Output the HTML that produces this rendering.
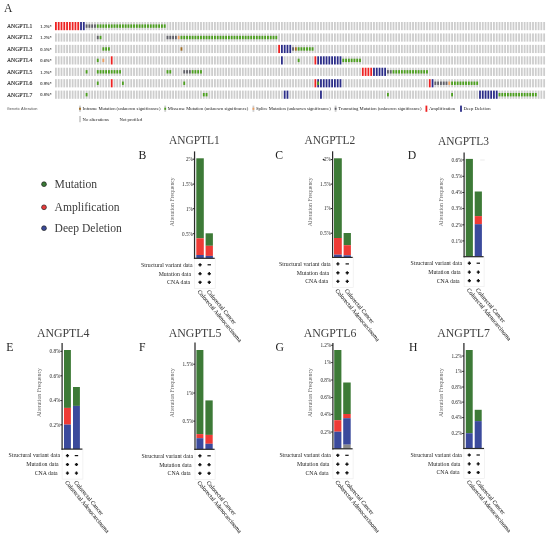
<!DOCTYPE html>
<html><head><meta charset="utf-8"><title>ANGPTL alterations</title>
<style>
html,body{margin:0;padding:0;background:#fff;width:550px;height:537px;overflow:hidden;}
svg{display:block;will-change:transform;}
text{font-family:"Liberation Serif", serif;}
</style></head><body>
<svg width="550" height="537" viewBox="0 0 550 537">
<rect x="0" y="0" width="550" height="537" fill="#fff"/>
<text x="7.00" y="28.00" font-size="5.7" text-anchor="start" fill="#2a2a2a" stroke="#2a2a2a" stroke-width="0.12">ANGPTL1</text>
<text x="40.30" y="27.80" font-size="4.45" text-anchor="start" fill="#333" stroke="#333" stroke-width="0.08">1.2%*</text>
<rect x="55.00" y="22.00" width="1.80" height="8.20" fill="#ee2222" />
<rect x="57.79" y="22.00" width="1.80" height="8.20" fill="#ee2222" />
<rect x="60.58" y="22.00" width="1.80" height="8.20" fill="#ee2222" />
<rect x="63.37" y="22.00" width="1.80" height="8.20" fill="#ee2222" />
<rect x="66.16" y="22.00" width="1.80" height="8.20" fill="#ee2222" />
<rect x="68.95" y="22.00" width="1.80" height="8.20" fill="#ee2222" />
<rect x="71.74" y="22.00" width="1.80" height="8.20" fill="#ee2222" />
<rect x="74.53" y="22.00" width="1.80" height="8.20" fill="#ee2222" />
<rect x="77.32" y="22.00" width="1.80" height="8.20" fill="#ee2222" />
<rect x="80.11" y="22.00" width="1.80" height="8.20" fill="#2b2d88" />
<rect x="82.90" y="22.00" width="1.80" height="8.20" fill="#2b2d88" />
<rect x="85.69" y="22.00" width="1.80" height="8.20" fill="#cdcdcd" />
<rect x="85.69" y="24.40" width="1.80" height="3.40" fill="#606068" />
<rect x="88.48" y="22.00" width="1.80" height="8.20" fill="#cdcdcd" />
<rect x="88.48" y="24.40" width="1.80" height="3.40" fill="#606068" />
<rect x="91.27" y="22.00" width="1.80" height="8.20" fill="#cdcdcd" />
<rect x="91.27" y="24.40" width="1.80" height="3.40" fill="#606068" />
<rect x="94.06" y="22.00" width="1.80" height="8.20" fill="#cdcdcd" />
<rect x="94.06" y="24.40" width="1.80" height="3.40" fill="#606068" />
<rect x="96.85" y="22.00" width="1.80" height="8.20" fill="#cdcdcd" />
<rect x="96.85" y="24.40" width="1.80" height="3.40" fill="#4ca01e" />
<rect x="99.64" y="22.00" width="1.80" height="8.20" fill="#cdcdcd" />
<rect x="99.64" y="24.40" width="1.80" height="3.40" fill="#4ca01e" />
<rect x="102.43" y="22.00" width="1.80" height="8.20" fill="#cdcdcd" />
<rect x="102.43" y="24.40" width="1.80" height="3.40" fill="#4ca01e" />
<rect x="105.22" y="22.00" width="1.80" height="8.20" fill="#cdcdcd" />
<rect x="105.22" y="24.40" width="1.80" height="3.40" fill="#4ca01e" />
<rect x="108.01" y="22.00" width="1.80" height="8.20" fill="#cdcdcd" />
<rect x="108.01" y="24.40" width="1.80" height="3.40" fill="#4ca01e" />
<rect x="110.80" y="22.00" width="1.80" height="8.20" fill="#cdcdcd" />
<rect x="110.80" y="24.40" width="1.80" height="3.40" fill="#4ca01e" />
<rect x="113.59" y="22.00" width="1.80" height="8.20" fill="#cdcdcd" />
<rect x="113.59" y="24.40" width="1.80" height="3.40" fill="#4ca01e" />
<rect x="116.38" y="22.00" width="1.80" height="8.20" fill="#cdcdcd" />
<rect x="116.38" y="24.40" width="1.80" height="3.40" fill="#4ca01e" />
<rect x="119.17" y="22.00" width="1.80" height="8.20" fill="#cdcdcd" />
<rect x="119.17" y="24.40" width="1.80" height="3.40" fill="#4ca01e" />
<rect x="121.96" y="22.00" width="1.80" height="8.20" fill="#cdcdcd" />
<rect x="121.96" y="24.40" width="1.80" height="3.40" fill="#4ca01e" />
<rect x="124.75" y="22.00" width="1.80" height="8.20" fill="#cdcdcd" />
<rect x="124.75" y="24.40" width="1.80" height="3.40" fill="#4ca01e" />
<rect x="127.54" y="22.00" width="1.80" height="8.20" fill="#cdcdcd" />
<rect x="127.54" y="24.40" width="1.80" height="3.40" fill="#4ca01e" />
<rect x="130.33" y="22.00" width="1.80" height="8.20" fill="#cdcdcd" />
<rect x="130.33" y="24.40" width="1.80" height="3.40" fill="#4ca01e" />
<rect x="133.12" y="22.00" width="1.80" height="8.20" fill="#cdcdcd" />
<rect x="133.12" y="24.40" width="1.80" height="3.40" fill="#4ca01e" />
<rect x="135.91" y="22.00" width="1.80" height="8.20" fill="#cdcdcd" />
<rect x="135.91" y="24.40" width="1.80" height="3.40" fill="#4ca01e" />
<rect x="138.70" y="22.00" width="1.80" height="8.20" fill="#cdcdcd" />
<rect x="138.70" y="24.40" width="1.80" height="3.40" fill="#4ca01e" />
<rect x="141.49" y="22.00" width="1.80" height="8.20" fill="#cdcdcd" />
<rect x="141.49" y="24.40" width="1.80" height="3.40" fill="#4ca01e" />
<rect x="144.28" y="22.00" width="1.80" height="8.20" fill="#cdcdcd" />
<rect x="144.28" y="24.40" width="1.80" height="3.40" fill="#4ca01e" />
<rect x="147.07" y="22.00" width="1.80" height="8.20" fill="#cdcdcd" />
<rect x="147.07" y="24.40" width="1.80" height="3.40" fill="#4ca01e" />
<rect x="149.86" y="22.00" width="1.80" height="8.20" fill="#cdcdcd" />
<rect x="149.86" y="24.40" width="1.80" height="3.40" fill="#4ca01e" />
<rect x="152.65" y="22.00" width="1.80" height="8.20" fill="#cdcdcd" />
<rect x="152.65" y="24.40" width="1.80" height="3.40" fill="#4ca01e" />
<rect x="155.44" y="22.00" width="1.80" height="8.20" fill="#cdcdcd" />
<rect x="155.44" y="24.40" width="1.80" height="3.40" fill="#4ca01e" />
<rect x="158.23" y="22.00" width="1.80" height="8.20" fill="#cdcdcd" />
<rect x="158.23" y="24.40" width="1.80" height="3.40" fill="#4ca01e" />
<rect x="161.02" y="22.00" width="1.80" height="8.20" fill="#cdcdcd" />
<rect x="161.02" y="24.40" width="1.80" height="3.40" fill="#4ca01e" />
<rect x="163.81" y="22.00" width="1.80" height="8.20" fill="#cdcdcd" />
<rect x="163.81" y="24.40" width="1.80" height="3.40" fill="#4ca01e" />
<rect x="166.60" y="22.00" width="1.80" height="8.20" fill="#cdcdcd" />
<rect x="169.39" y="22.00" width="1.80" height="8.20" fill="#cdcdcd" />
<rect x="172.18" y="22.00" width="1.80" height="8.20" fill="#cdcdcd" />
<rect x="174.97" y="22.00" width="1.80" height="8.20" fill="#cdcdcd" />
<rect x="177.76" y="22.00" width="1.80" height="8.20" fill="#cdcdcd" />
<rect x="180.55" y="22.00" width="1.80" height="8.20" fill="#cdcdcd" />
<rect x="183.34" y="22.00" width="1.80" height="8.20" fill="#cdcdcd" />
<rect x="186.13" y="22.00" width="1.80" height="8.20" fill="#cdcdcd" />
<rect x="188.92" y="22.00" width="1.80" height="8.20" fill="#cdcdcd" />
<rect x="191.71" y="22.00" width="1.80" height="8.20" fill="#cdcdcd" />
<rect x="194.50" y="22.00" width="1.80" height="8.20" fill="#cdcdcd" />
<rect x="197.29" y="22.00" width="1.80" height="8.20" fill="#cdcdcd" />
<rect x="200.08" y="22.00" width="1.80" height="8.20" fill="#cdcdcd" />
<rect x="202.87" y="22.00" width="1.80" height="8.20" fill="#cdcdcd" />
<rect x="205.66" y="22.00" width="1.80" height="8.20" fill="#cdcdcd" />
<rect x="208.45" y="22.00" width="1.80" height="8.20" fill="#cdcdcd" />
<rect x="211.24" y="22.00" width="1.80" height="8.20" fill="#cdcdcd" />
<rect x="214.03" y="22.00" width="1.80" height="8.20" fill="#cdcdcd" />
<rect x="216.82" y="22.00" width="1.80" height="8.20" fill="#cdcdcd" />
<rect x="219.61" y="22.00" width="1.80" height="8.20" fill="#cdcdcd" />
<rect x="222.40" y="22.00" width="1.80" height="8.20" fill="#cdcdcd" />
<rect x="225.19" y="22.00" width="1.80" height="8.20" fill="#cdcdcd" />
<rect x="227.98" y="22.00" width="1.80" height="8.20" fill="#cdcdcd" />
<rect x="230.77" y="22.00" width="1.80" height="8.20" fill="#cdcdcd" />
<rect x="233.56" y="22.00" width="1.80" height="8.20" fill="#cdcdcd" />
<rect x="236.35" y="22.00" width="1.80" height="8.20" fill="#cdcdcd" />
<rect x="239.14" y="22.00" width="1.80" height="8.20" fill="#cdcdcd" />
<rect x="241.93" y="22.00" width="1.80" height="8.20" fill="#cdcdcd" />
<rect x="244.72" y="22.00" width="1.80" height="8.20" fill="#cdcdcd" />
<rect x="247.51" y="22.00" width="1.80" height="8.20" fill="#cdcdcd" />
<rect x="250.30" y="22.00" width="1.80" height="8.20" fill="#cdcdcd" />
<rect x="253.09" y="22.00" width="1.80" height="8.20" fill="#cdcdcd" />
<rect x="255.88" y="22.00" width="1.80" height="8.20" fill="#cdcdcd" />
<rect x="258.67" y="22.00" width="1.80" height="8.20" fill="#cdcdcd" />
<rect x="261.46" y="22.00" width="1.80" height="8.20" fill="#cdcdcd" />
<rect x="264.25" y="22.00" width="1.80" height="8.20" fill="#cdcdcd" />
<rect x="267.04" y="22.00" width="1.80" height="8.20" fill="#cdcdcd" />
<rect x="269.83" y="22.00" width="1.80" height="8.20" fill="#cdcdcd" />
<rect x="272.62" y="22.00" width="1.80" height="8.20" fill="#cdcdcd" />
<rect x="275.41" y="22.00" width="1.80" height="8.20" fill="#cdcdcd" />
<rect x="278.20" y="22.00" width="1.80" height="8.20" fill="#cdcdcd" />
<rect x="280.99" y="22.00" width="1.80" height="8.20" fill="#cdcdcd" />
<rect x="283.78" y="22.00" width="1.80" height="8.20" fill="#cdcdcd" />
<rect x="286.57" y="22.00" width="1.80" height="8.20" fill="#cdcdcd" />
<rect x="289.36" y="22.00" width="1.80" height="8.20" fill="#cdcdcd" />
<rect x="292.15" y="22.00" width="1.80" height="8.20" fill="#cdcdcd" />
<rect x="294.94" y="22.00" width="1.80" height="8.20" fill="#cdcdcd" />
<rect x="297.73" y="22.00" width="1.80" height="8.20" fill="#cdcdcd" />
<rect x="300.52" y="22.00" width="1.80" height="8.20" fill="#cdcdcd" />
<rect x="303.31" y="22.00" width="1.80" height="8.20" fill="#cdcdcd" />
<rect x="306.10" y="22.00" width="1.80" height="8.20" fill="#cdcdcd" />
<rect x="308.89" y="22.00" width="1.80" height="8.20" fill="#cdcdcd" />
<rect x="311.68" y="22.00" width="1.80" height="8.20" fill="#cdcdcd" />
<rect x="314.47" y="22.00" width="1.80" height="8.20" fill="#cdcdcd" />
<rect x="317.26" y="22.00" width="1.80" height="8.20" fill="#cdcdcd" />
<rect x="320.05" y="22.00" width="1.80" height="8.20" fill="#cdcdcd" />
<rect x="322.84" y="22.00" width="1.80" height="8.20" fill="#cdcdcd" />
<rect x="325.63" y="22.00" width="1.80" height="8.20" fill="#cdcdcd" />
<rect x="328.42" y="22.00" width="1.80" height="8.20" fill="#cdcdcd" />
<rect x="331.21" y="22.00" width="1.80" height="8.20" fill="#cdcdcd" />
<rect x="334.00" y="22.00" width="1.80" height="8.20" fill="#cdcdcd" />
<rect x="336.79" y="22.00" width="1.80" height="8.20" fill="#cdcdcd" />
<rect x="339.58" y="22.00" width="1.80" height="8.20" fill="#cdcdcd" />
<rect x="342.37" y="22.00" width="1.80" height="8.20" fill="#cdcdcd" />
<rect x="345.16" y="22.00" width="1.80" height="8.20" fill="#cdcdcd" />
<rect x="347.95" y="22.00" width="1.80" height="8.20" fill="#cdcdcd" />
<rect x="350.74" y="22.00" width="1.80" height="8.20" fill="#cdcdcd" />
<rect x="353.53" y="22.00" width="1.80" height="8.20" fill="#cdcdcd" />
<rect x="356.32" y="22.00" width="1.80" height="8.20" fill="#cdcdcd" />
<rect x="359.11" y="22.00" width="1.80" height="8.20" fill="#cdcdcd" />
<rect x="361.90" y="22.00" width="1.80" height="8.20" fill="#cdcdcd" />
<rect x="364.69" y="22.00" width="1.80" height="8.20" fill="#cdcdcd" />
<rect x="367.48" y="22.00" width="1.80" height="8.20" fill="#cdcdcd" />
<rect x="370.27" y="22.00" width="1.80" height="8.20" fill="#cdcdcd" />
<rect x="373.06" y="22.00" width="1.80" height="8.20" fill="#cdcdcd" />
<rect x="375.85" y="22.00" width="1.80" height="8.20" fill="#cdcdcd" />
<rect x="378.64" y="22.00" width="1.80" height="8.20" fill="#cdcdcd" />
<rect x="381.43" y="22.00" width="1.80" height="8.20" fill="#cdcdcd" />
<rect x="384.22" y="22.00" width="1.80" height="8.20" fill="#cdcdcd" />
<rect x="387.01" y="22.00" width="1.80" height="8.20" fill="#cdcdcd" />
<rect x="389.80" y="22.00" width="1.80" height="8.20" fill="#cdcdcd" />
<rect x="392.59" y="22.00" width="1.80" height="8.20" fill="#cdcdcd" />
<rect x="395.38" y="22.00" width="1.80" height="8.20" fill="#cdcdcd" />
<rect x="398.17" y="22.00" width="1.80" height="8.20" fill="#cdcdcd" />
<rect x="400.96" y="22.00" width="1.80" height="8.20" fill="#cdcdcd" />
<rect x="403.75" y="22.00" width="1.80" height="8.20" fill="#cdcdcd" />
<rect x="406.54" y="22.00" width="1.80" height="8.20" fill="#cdcdcd" />
<rect x="409.33" y="22.00" width="1.80" height="8.20" fill="#cdcdcd" />
<rect x="412.12" y="22.00" width="1.80" height="8.20" fill="#cdcdcd" />
<rect x="414.91" y="22.00" width="1.80" height="8.20" fill="#cdcdcd" />
<rect x="417.70" y="22.00" width="1.80" height="8.20" fill="#cdcdcd" />
<rect x="420.49" y="22.00" width="1.80" height="8.20" fill="#cdcdcd" />
<rect x="423.28" y="22.00" width="1.80" height="8.20" fill="#cdcdcd" />
<rect x="426.07" y="22.00" width="1.80" height="8.20" fill="#cdcdcd" />
<rect x="428.86" y="22.00" width="1.80" height="8.20" fill="#cdcdcd" />
<rect x="431.65" y="22.00" width="1.80" height="8.20" fill="#cdcdcd" />
<rect x="434.44" y="22.00" width="1.80" height="8.20" fill="#cdcdcd" />
<rect x="437.23" y="22.00" width="1.80" height="8.20" fill="#cdcdcd" />
<rect x="440.02" y="22.00" width="1.80" height="8.20" fill="#cdcdcd" />
<rect x="442.81" y="22.00" width="1.80" height="8.20" fill="#cdcdcd" />
<rect x="445.60" y="22.00" width="1.80" height="8.20" fill="#cdcdcd" />
<rect x="448.39" y="22.00" width="1.80" height="8.20" fill="#cdcdcd" />
<rect x="451.18" y="22.00" width="1.80" height="8.20" fill="#cdcdcd" />
<rect x="453.97" y="22.00" width="1.80" height="8.20" fill="#cdcdcd" />
<rect x="456.76" y="22.00" width="1.80" height="8.20" fill="#cdcdcd" />
<rect x="459.55" y="22.00" width="1.80" height="8.20" fill="#cdcdcd" />
<rect x="462.34" y="22.00" width="1.80" height="8.20" fill="#cdcdcd" />
<rect x="465.13" y="22.00" width="1.80" height="8.20" fill="#cdcdcd" />
<rect x="467.92" y="22.00" width="1.80" height="8.20" fill="#cdcdcd" />
<rect x="470.71" y="22.00" width="1.80" height="8.20" fill="#cdcdcd" />
<rect x="473.50" y="22.00" width="1.80" height="8.20" fill="#cdcdcd" />
<rect x="476.29" y="22.00" width="1.80" height="8.20" fill="#cdcdcd" />
<rect x="479.08" y="22.00" width="1.80" height="8.20" fill="#cdcdcd" />
<rect x="481.87" y="22.00" width="1.80" height="8.20" fill="#cdcdcd" />
<rect x="484.66" y="22.00" width="1.80" height="8.20" fill="#cdcdcd" />
<rect x="487.45" y="22.00" width="1.80" height="8.20" fill="#cdcdcd" />
<rect x="490.24" y="22.00" width="1.80" height="8.20" fill="#cdcdcd" />
<rect x="493.03" y="22.00" width="1.80" height="8.20" fill="#cdcdcd" />
<rect x="495.82" y="22.00" width="1.80" height="8.20" fill="#cdcdcd" />
<rect x="498.61" y="22.00" width="1.80" height="8.20" fill="#cdcdcd" />
<rect x="501.40" y="22.00" width="1.80" height="8.20" fill="#cdcdcd" />
<rect x="504.19" y="22.00" width="1.80" height="8.20" fill="#cdcdcd" />
<rect x="506.98" y="22.00" width="1.80" height="8.20" fill="#cdcdcd" />
<rect x="509.77" y="22.00" width="1.80" height="8.20" fill="#cdcdcd" />
<rect x="512.56" y="22.00" width="1.80" height="8.20" fill="#cdcdcd" />
<rect x="515.35" y="22.00" width="1.80" height="8.20" fill="#cdcdcd" />
<rect x="518.14" y="22.00" width="1.80" height="8.20" fill="#cdcdcd" />
<rect x="520.93" y="22.00" width="1.80" height="8.20" fill="#cdcdcd" />
<rect x="523.72" y="22.00" width="1.80" height="8.20" fill="#cdcdcd" />
<rect x="526.51" y="22.00" width="1.80" height="8.20" fill="#cdcdcd" />
<rect x="529.30" y="22.00" width="1.80" height="8.20" fill="#cdcdcd" />
<rect x="532.09" y="22.00" width="1.80" height="8.20" fill="#cdcdcd" />
<rect x="534.88" y="22.00" width="1.80" height="8.20" fill="#cdcdcd" />
<rect x="537.67" y="22.00" width="1.80" height="8.20" fill="#cdcdcd" />
<rect x="540.46" y="22.00" width="1.80" height="8.20" fill="#cdcdcd" />
<rect x="543.25" y="22.00" width="1.80" height="8.20" fill="#cdcdcd" />
<text x="7.00" y="39.43" font-size="5.7" text-anchor="start" fill="#2a2a2a" stroke="#2a2a2a" stroke-width="0.12">ANGPTL2</text>
<text x="40.30" y="39.23" font-size="4.45" text-anchor="start" fill="#333" stroke="#333" stroke-width="0.08">1.2%*</text>
<rect x="55.00" y="33.43" width="1.80" height="8.20" fill="#cdcdcd" />
<rect x="57.79" y="33.43" width="1.80" height="8.20" fill="#cdcdcd" />
<rect x="60.58" y="33.43" width="1.80" height="8.20" fill="#cdcdcd" />
<rect x="63.37" y="33.43" width="1.80" height="8.20" fill="#cdcdcd" />
<rect x="66.16" y="33.43" width="1.80" height="8.20" fill="#cdcdcd" />
<rect x="68.95" y="33.43" width="1.80" height="8.20" fill="#cdcdcd" />
<rect x="71.74" y="33.43" width="1.80" height="8.20" fill="#cdcdcd" />
<rect x="74.53" y="33.43" width="1.80" height="8.20" fill="#cdcdcd" />
<rect x="77.32" y="33.43" width="1.80" height="8.20" fill="#cdcdcd" />
<rect x="80.11" y="33.43" width="1.80" height="8.20" fill="#cdcdcd" />
<rect x="82.90" y="33.43" width="1.80" height="8.20" fill="#cdcdcd" />
<rect x="85.69" y="33.43" width="1.80" height="8.20" fill="#cdcdcd" />
<rect x="88.48" y="33.43" width="1.80" height="8.20" fill="#cdcdcd" />
<rect x="91.27" y="33.43" width="1.80" height="8.20" fill="#cdcdcd" />
<rect x="94.06" y="33.43" width="1.80" height="8.20" fill="#cdcdcd" />
<rect x="96.85" y="33.43" width="1.80" height="8.20" fill="#cdcdcd" />
<rect x="96.85" y="35.83" width="1.80" height="3.40" fill="#606068" />
<rect x="99.64" y="33.43" width="1.80" height="8.20" fill="#cdcdcd" />
<rect x="99.64" y="35.83" width="1.80" height="3.40" fill="#4ca01e" />
<rect x="102.43" y="33.43" width="1.80" height="8.20" fill="#cdcdcd" />
<rect x="105.22" y="33.43" width="1.80" height="8.20" fill="#cdcdcd" />
<rect x="108.01" y="33.43" width="1.80" height="8.20" fill="#cdcdcd" />
<rect x="110.80" y="33.43" width="1.80" height="8.20" fill="#cdcdcd" />
<rect x="113.59" y="33.43" width="1.80" height="8.20" fill="#cdcdcd" />
<rect x="116.38" y="33.43" width="1.80" height="8.20" fill="#cdcdcd" />
<rect x="119.17" y="33.43" width="1.80" height="8.20" fill="#cdcdcd" />
<rect x="121.96" y="33.43" width="1.80" height="8.20" fill="#cdcdcd" />
<rect x="124.75" y="33.43" width="1.80" height="8.20" fill="#cdcdcd" />
<rect x="127.54" y="33.43" width="1.80" height="8.20" fill="#cdcdcd" />
<rect x="130.33" y="33.43" width="1.80" height="8.20" fill="#cdcdcd" />
<rect x="133.12" y="33.43" width="1.80" height="8.20" fill="#cdcdcd" />
<rect x="135.91" y="33.43" width="1.80" height="8.20" fill="#cdcdcd" />
<rect x="138.70" y="33.43" width="1.80" height="8.20" fill="#cdcdcd" />
<rect x="141.49" y="33.43" width="1.80" height="8.20" fill="#cdcdcd" />
<rect x="144.28" y="33.43" width="1.80" height="8.20" fill="#cdcdcd" />
<rect x="147.07" y="33.43" width="1.80" height="8.20" fill="#cdcdcd" />
<rect x="149.86" y="33.43" width="1.80" height="8.20" fill="#cdcdcd" />
<rect x="152.65" y="33.43" width="1.80" height="8.20" fill="#cdcdcd" />
<rect x="155.44" y="33.43" width="1.80" height="8.20" fill="#cdcdcd" />
<rect x="158.23" y="33.43" width="1.80" height="8.20" fill="#cdcdcd" />
<rect x="161.02" y="33.43" width="1.80" height="8.20" fill="#cdcdcd" />
<rect x="163.81" y="33.43" width="1.80" height="8.20" fill="#cdcdcd" />
<rect x="166.60" y="33.43" width="1.80" height="8.20" fill="#cdcdcd" />
<rect x="166.60" y="35.83" width="1.80" height="3.40" fill="#606068" />
<rect x="169.39" y="33.43" width="1.80" height="8.20" fill="#cdcdcd" />
<rect x="169.39" y="35.83" width="1.80" height="3.40" fill="#606068" />
<rect x="172.18" y="33.43" width="1.80" height="8.20" fill="#cdcdcd" />
<rect x="172.18" y="35.83" width="1.80" height="3.40" fill="#606068" />
<rect x="174.97" y="33.43" width="1.80" height="8.20" fill="#cdcdcd" />
<rect x="174.97" y="35.83" width="1.80" height="3.40" fill="#606068" />
<rect x="177.76" y="33.43" width="1.80" height="8.20" fill="#cdcdcd" />
<rect x="177.76" y="35.83" width="1.80" height="3.40" fill="#f0a060" />
<rect x="180.55" y="33.43" width="1.80" height="8.20" fill="#cdcdcd" />
<rect x="180.55" y="35.83" width="1.80" height="3.40" fill="#4ca01e" />
<rect x="183.34" y="33.43" width="1.80" height="8.20" fill="#cdcdcd" />
<rect x="183.34" y="35.83" width="1.80" height="3.40" fill="#4ca01e" />
<rect x="186.13" y="33.43" width="1.80" height="8.20" fill="#cdcdcd" />
<rect x="186.13" y="35.83" width="1.80" height="3.40" fill="#4ca01e" />
<rect x="188.92" y="33.43" width="1.80" height="8.20" fill="#cdcdcd" />
<rect x="188.92" y="35.83" width="1.80" height="3.40" fill="#4ca01e" />
<rect x="191.71" y="33.43" width="1.80" height="8.20" fill="#cdcdcd" />
<rect x="191.71" y="35.83" width="1.80" height="3.40" fill="#4ca01e" />
<rect x="194.50" y="33.43" width="1.80" height="8.20" fill="#cdcdcd" />
<rect x="194.50" y="35.83" width="1.80" height="3.40" fill="#4ca01e" />
<rect x="197.29" y="33.43" width="1.80" height="8.20" fill="#cdcdcd" />
<rect x="197.29" y="35.83" width="1.80" height="3.40" fill="#4ca01e" />
<rect x="200.08" y="33.43" width="1.80" height="8.20" fill="#cdcdcd" />
<rect x="200.08" y="35.83" width="1.80" height="3.40" fill="#4ca01e" />
<rect x="202.87" y="33.43" width="1.80" height="8.20" fill="#cdcdcd" />
<rect x="202.87" y="35.83" width="1.80" height="3.40" fill="#4ca01e" />
<rect x="205.66" y="33.43" width="1.80" height="8.20" fill="#cdcdcd" />
<rect x="205.66" y="35.83" width="1.80" height="3.40" fill="#4ca01e" />
<rect x="208.45" y="33.43" width="1.80" height="8.20" fill="#cdcdcd" />
<rect x="208.45" y="35.83" width="1.80" height="3.40" fill="#4ca01e" />
<rect x="211.24" y="33.43" width="1.80" height="8.20" fill="#cdcdcd" />
<rect x="211.24" y="35.83" width="1.80" height="3.40" fill="#4ca01e" />
<rect x="214.03" y="33.43" width="1.80" height="8.20" fill="#cdcdcd" />
<rect x="214.03" y="35.83" width="1.80" height="3.40" fill="#4ca01e" />
<rect x="216.82" y="33.43" width="1.80" height="8.20" fill="#cdcdcd" />
<rect x="216.82" y="35.83" width="1.80" height="3.40" fill="#4ca01e" />
<rect x="219.61" y="33.43" width="1.80" height="8.20" fill="#cdcdcd" />
<rect x="219.61" y="35.83" width="1.80" height="3.40" fill="#4ca01e" />
<rect x="222.40" y="33.43" width="1.80" height="8.20" fill="#cdcdcd" />
<rect x="222.40" y="35.83" width="1.80" height="3.40" fill="#4ca01e" />
<rect x="225.19" y="33.43" width="1.80" height="8.20" fill="#cdcdcd" />
<rect x="225.19" y="35.83" width="1.80" height="3.40" fill="#4ca01e" />
<rect x="227.98" y="33.43" width="1.80" height="8.20" fill="#cdcdcd" />
<rect x="227.98" y="35.83" width="1.80" height="3.40" fill="#4ca01e" />
<rect x="230.77" y="33.43" width="1.80" height="8.20" fill="#cdcdcd" />
<rect x="230.77" y="35.83" width="1.80" height="3.40" fill="#4ca01e" />
<rect x="233.56" y="33.43" width="1.80" height="8.20" fill="#cdcdcd" />
<rect x="233.56" y="35.83" width="1.80" height="3.40" fill="#4ca01e" />
<rect x="236.35" y="33.43" width="1.80" height="8.20" fill="#cdcdcd" />
<rect x="236.35" y="35.83" width="1.80" height="3.40" fill="#4ca01e" />
<rect x="239.14" y="33.43" width="1.80" height="8.20" fill="#cdcdcd" />
<rect x="239.14" y="35.83" width="1.80" height="3.40" fill="#4ca01e" />
<rect x="241.93" y="33.43" width="1.80" height="8.20" fill="#cdcdcd" />
<rect x="241.93" y="35.83" width="1.80" height="3.40" fill="#4ca01e" />
<rect x="244.72" y="33.43" width="1.80" height="8.20" fill="#cdcdcd" />
<rect x="244.72" y="35.83" width="1.80" height="3.40" fill="#4ca01e" />
<rect x="247.51" y="33.43" width="1.80" height="8.20" fill="#cdcdcd" />
<rect x="247.51" y="35.83" width="1.80" height="3.40" fill="#4ca01e" />
<rect x="250.30" y="33.43" width="1.80" height="8.20" fill="#cdcdcd" />
<rect x="250.30" y="35.83" width="1.80" height="3.40" fill="#4ca01e" />
<rect x="253.09" y="33.43" width="1.80" height="8.20" fill="#cdcdcd" />
<rect x="253.09" y="35.83" width="1.80" height="3.40" fill="#4ca01e" />
<rect x="255.88" y="33.43" width="1.80" height="8.20" fill="#cdcdcd" />
<rect x="255.88" y="35.83" width="1.80" height="3.40" fill="#4ca01e" />
<rect x="258.67" y="33.43" width="1.80" height="8.20" fill="#cdcdcd" />
<rect x="258.67" y="35.83" width="1.80" height="3.40" fill="#4ca01e" />
<rect x="261.46" y="33.43" width="1.80" height="8.20" fill="#cdcdcd" />
<rect x="261.46" y="35.83" width="1.80" height="3.40" fill="#4ca01e" />
<rect x="264.25" y="33.43" width="1.80" height="8.20" fill="#cdcdcd" />
<rect x="264.25" y="35.83" width="1.80" height="3.40" fill="#4ca01e" />
<rect x="267.04" y="33.43" width="1.80" height="8.20" fill="#cdcdcd" />
<rect x="267.04" y="35.83" width="1.80" height="3.40" fill="#4ca01e" />
<rect x="269.83" y="33.43" width="1.80" height="8.20" fill="#cdcdcd" />
<rect x="269.83" y="35.83" width="1.80" height="3.40" fill="#4ca01e" />
<rect x="272.62" y="33.43" width="1.80" height="8.20" fill="#cdcdcd" />
<rect x="272.62" y="35.83" width="1.80" height="3.40" fill="#4ca01e" />
<rect x="275.41" y="33.43" width="1.80" height="8.20" fill="#cdcdcd" />
<rect x="275.41" y="35.83" width="1.80" height="3.40" fill="#4ca01e" />
<rect x="278.20" y="33.43" width="1.80" height="8.20" fill="#cdcdcd" />
<rect x="280.99" y="33.43" width="1.80" height="8.20" fill="#cdcdcd" />
<rect x="283.78" y="33.43" width="1.80" height="8.20" fill="#cdcdcd" />
<rect x="286.57" y="33.43" width="1.80" height="8.20" fill="#cdcdcd" />
<rect x="289.36" y="33.43" width="1.80" height="8.20" fill="#cdcdcd" />
<rect x="292.15" y="33.43" width="1.80" height="8.20" fill="#cdcdcd" />
<rect x="294.94" y="33.43" width="1.80" height="8.20" fill="#cdcdcd" />
<rect x="297.73" y="33.43" width="1.80" height="8.20" fill="#cdcdcd" />
<rect x="300.52" y="33.43" width="1.80" height="8.20" fill="#cdcdcd" />
<rect x="303.31" y="33.43" width="1.80" height="8.20" fill="#cdcdcd" />
<rect x="306.10" y="33.43" width="1.80" height="8.20" fill="#cdcdcd" />
<rect x="308.89" y="33.43" width="1.80" height="8.20" fill="#cdcdcd" />
<rect x="311.68" y="33.43" width="1.80" height="8.20" fill="#cdcdcd" />
<rect x="314.47" y="33.43" width="1.80" height="8.20" fill="#cdcdcd" />
<rect x="317.26" y="33.43" width="1.80" height="8.20" fill="#cdcdcd" />
<rect x="320.05" y="33.43" width="1.80" height="8.20" fill="#cdcdcd" />
<rect x="322.84" y="33.43" width="1.80" height="8.20" fill="#cdcdcd" />
<rect x="325.63" y="33.43" width="1.80" height="8.20" fill="#cdcdcd" />
<rect x="328.42" y="33.43" width="1.80" height="8.20" fill="#cdcdcd" />
<rect x="331.21" y="33.43" width="1.80" height="8.20" fill="#cdcdcd" />
<rect x="334.00" y="33.43" width="1.80" height="8.20" fill="#cdcdcd" />
<rect x="336.79" y="33.43" width="1.80" height="8.20" fill="#cdcdcd" />
<rect x="339.58" y="33.43" width="1.80" height="8.20" fill="#cdcdcd" />
<rect x="342.37" y="33.43" width="1.80" height="8.20" fill="#cdcdcd" />
<rect x="345.16" y="33.43" width="1.80" height="8.20" fill="#cdcdcd" />
<rect x="347.95" y="33.43" width="1.80" height="8.20" fill="#cdcdcd" />
<rect x="350.74" y="33.43" width="1.80" height="8.20" fill="#cdcdcd" />
<rect x="353.53" y="33.43" width="1.80" height="8.20" fill="#cdcdcd" />
<rect x="356.32" y="33.43" width="1.80" height="8.20" fill="#cdcdcd" />
<rect x="359.11" y="33.43" width="1.80" height="8.20" fill="#cdcdcd" />
<rect x="361.90" y="33.43" width="1.80" height="8.20" fill="#cdcdcd" />
<rect x="364.69" y="33.43" width="1.80" height="8.20" fill="#cdcdcd" />
<rect x="367.48" y="33.43" width="1.80" height="8.20" fill="#cdcdcd" />
<rect x="370.27" y="33.43" width="1.80" height="8.20" fill="#cdcdcd" />
<rect x="373.06" y="33.43" width="1.80" height="8.20" fill="#cdcdcd" />
<rect x="375.85" y="33.43" width="1.80" height="8.20" fill="#cdcdcd" />
<rect x="378.64" y="33.43" width="1.80" height="8.20" fill="#cdcdcd" />
<rect x="381.43" y="33.43" width="1.80" height="8.20" fill="#cdcdcd" />
<rect x="384.22" y="33.43" width="1.80" height="8.20" fill="#cdcdcd" />
<rect x="387.01" y="33.43" width="1.80" height="8.20" fill="#cdcdcd" />
<rect x="389.80" y="33.43" width="1.80" height="8.20" fill="#cdcdcd" />
<rect x="392.59" y="33.43" width="1.80" height="8.20" fill="#cdcdcd" />
<rect x="395.38" y="33.43" width="1.80" height="8.20" fill="#cdcdcd" />
<rect x="398.17" y="33.43" width="1.80" height="8.20" fill="#cdcdcd" />
<rect x="400.96" y="33.43" width="1.80" height="8.20" fill="#cdcdcd" />
<rect x="403.75" y="33.43" width="1.80" height="8.20" fill="#cdcdcd" />
<rect x="406.54" y="33.43" width="1.80" height="8.20" fill="#cdcdcd" />
<rect x="409.33" y="33.43" width="1.80" height="8.20" fill="#cdcdcd" />
<rect x="412.12" y="33.43" width="1.80" height="8.20" fill="#cdcdcd" />
<rect x="414.91" y="33.43" width="1.80" height="8.20" fill="#cdcdcd" />
<rect x="417.70" y="33.43" width="1.80" height="8.20" fill="#cdcdcd" />
<rect x="420.49" y="33.43" width="1.80" height="8.20" fill="#cdcdcd" />
<rect x="423.28" y="33.43" width="1.80" height="8.20" fill="#cdcdcd" />
<rect x="426.07" y="33.43" width="1.80" height="8.20" fill="#cdcdcd" />
<rect x="428.86" y="33.43" width="1.80" height="8.20" fill="#cdcdcd" />
<rect x="431.65" y="33.43" width="1.80" height="8.20" fill="#cdcdcd" />
<rect x="434.44" y="33.43" width="1.80" height="8.20" fill="#cdcdcd" />
<rect x="437.23" y="33.43" width="1.80" height="8.20" fill="#cdcdcd" />
<rect x="440.02" y="33.43" width="1.80" height="8.20" fill="#cdcdcd" />
<rect x="442.81" y="33.43" width="1.80" height="8.20" fill="#cdcdcd" />
<rect x="445.60" y="33.43" width="1.80" height="8.20" fill="#cdcdcd" />
<rect x="448.39" y="33.43" width="1.80" height="8.20" fill="#cdcdcd" />
<rect x="451.18" y="33.43" width="1.80" height="8.20" fill="#cdcdcd" />
<rect x="453.97" y="33.43" width="1.80" height="8.20" fill="#cdcdcd" />
<rect x="456.76" y="33.43" width="1.80" height="8.20" fill="#cdcdcd" />
<rect x="459.55" y="33.43" width="1.80" height="8.20" fill="#cdcdcd" />
<rect x="462.34" y="33.43" width="1.80" height="8.20" fill="#cdcdcd" />
<rect x="465.13" y="33.43" width="1.80" height="8.20" fill="#cdcdcd" />
<rect x="467.92" y="33.43" width="1.80" height="8.20" fill="#cdcdcd" />
<rect x="470.71" y="33.43" width="1.80" height="8.20" fill="#cdcdcd" />
<rect x="473.50" y="33.43" width="1.80" height="8.20" fill="#cdcdcd" />
<rect x="476.29" y="33.43" width="1.80" height="8.20" fill="#cdcdcd" />
<rect x="479.08" y="33.43" width="1.80" height="8.20" fill="#cdcdcd" />
<rect x="481.87" y="33.43" width="1.80" height="8.20" fill="#cdcdcd" />
<rect x="484.66" y="33.43" width="1.80" height="8.20" fill="#cdcdcd" />
<rect x="487.45" y="33.43" width="1.80" height="8.20" fill="#cdcdcd" />
<rect x="490.24" y="33.43" width="1.80" height="8.20" fill="#cdcdcd" />
<rect x="493.03" y="33.43" width="1.80" height="8.20" fill="#cdcdcd" />
<rect x="495.82" y="33.43" width="1.80" height="8.20" fill="#cdcdcd" />
<rect x="498.61" y="33.43" width="1.80" height="8.20" fill="#cdcdcd" />
<rect x="501.40" y="33.43" width="1.80" height="8.20" fill="#cdcdcd" />
<rect x="504.19" y="33.43" width="1.80" height="8.20" fill="#cdcdcd" />
<rect x="506.98" y="33.43" width="1.80" height="8.20" fill="#cdcdcd" />
<rect x="509.77" y="33.43" width="1.80" height="8.20" fill="#cdcdcd" />
<rect x="512.56" y="33.43" width="1.80" height="8.20" fill="#cdcdcd" />
<rect x="515.35" y="33.43" width="1.80" height="8.20" fill="#cdcdcd" />
<rect x="518.14" y="33.43" width="1.80" height="8.20" fill="#cdcdcd" />
<rect x="520.93" y="33.43" width="1.80" height="8.20" fill="#cdcdcd" />
<rect x="523.72" y="33.43" width="1.80" height="8.20" fill="#cdcdcd" />
<rect x="526.51" y="33.43" width="1.80" height="8.20" fill="#cdcdcd" />
<rect x="529.30" y="33.43" width="1.80" height="8.20" fill="#cdcdcd" />
<rect x="532.09" y="33.43" width="1.80" height="8.20" fill="#cdcdcd" />
<rect x="534.88" y="33.43" width="1.80" height="8.20" fill="#cdcdcd" />
<rect x="537.67" y="33.43" width="1.80" height="8.20" fill="#cdcdcd" />
<rect x="540.46" y="33.43" width="1.80" height="8.20" fill="#cdcdcd" />
<rect x="543.25" y="33.43" width="1.80" height="8.20" fill="#cdcdcd" />
<text x="7.00" y="50.86" font-size="5.7" text-anchor="start" fill="#2a2a2a" stroke="#2a2a2a" stroke-width="0.12">ANGPTL3</text>
<text x="40.30" y="50.66" font-size="4.45" text-anchor="start" fill="#333" stroke="#333" stroke-width="0.08">0.5%*</text>
<rect x="55.00" y="44.86" width="1.80" height="8.20" fill="#cdcdcd" />
<rect x="57.79" y="44.86" width="1.80" height="8.20" fill="#cdcdcd" />
<rect x="60.58" y="44.86" width="1.80" height="8.20" fill="#cdcdcd" />
<rect x="63.37" y="44.86" width="1.80" height="8.20" fill="#cdcdcd" />
<rect x="66.16" y="44.86" width="1.80" height="8.20" fill="#cdcdcd" />
<rect x="68.95" y="44.86" width="1.80" height="8.20" fill="#cdcdcd" />
<rect x="71.74" y="44.86" width="1.80" height="8.20" fill="#cdcdcd" />
<rect x="74.53" y="44.86" width="1.80" height="8.20" fill="#cdcdcd" />
<rect x="77.32" y="44.86" width="1.80" height="8.20" fill="#cdcdcd" />
<rect x="80.11" y="44.86" width="1.80" height="8.20" fill="#cdcdcd" />
<rect x="82.90" y="44.86" width="1.80" height="8.20" fill="#cdcdcd" />
<rect x="85.69" y="44.86" width="1.80" height="8.20" fill="#cdcdcd" />
<rect x="88.48" y="44.86" width="1.80" height="8.20" fill="#cdcdcd" />
<rect x="91.27" y="44.86" width="1.80" height="8.20" fill="#cdcdcd" />
<rect x="94.06" y="44.86" width="1.80" height="8.20" fill="#cdcdcd" />
<rect x="96.85" y="44.86" width="1.80" height="8.20" fill="#cdcdcd" />
<rect x="99.64" y="44.86" width="1.80" height="8.20" fill="#cdcdcd" />
<rect x="102.43" y="44.86" width="1.80" height="8.20" fill="#cdcdcd" />
<rect x="102.43" y="47.26" width="1.80" height="3.40" fill="#4ca01e" />
<rect x="105.22" y="44.86" width="1.80" height="8.20" fill="#cdcdcd" />
<rect x="105.22" y="47.26" width="1.80" height="3.40" fill="#4ca01e" />
<rect x="108.01" y="44.86" width="1.80" height="8.20" fill="#cdcdcd" />
<rect x="108.01" y="47.26" width="1.80" height="3.40" fill="#4ca01e" />
<rect x="110.80" y="44.86" width="1.80" height="8.20" fill="#cdcdcd" />
<rect x="113.59" y="44.86" width="1.80" height="8.20" fill="#cdcdcd" />
<rect x="116.38" y="44.86" width="1.80" height="8.20" fill="#cdcdcd" />
<rect x="119.17" y="44.86" width="1.80" height="8.20" fill="#cdcdcd" />
<rect x="121.96" y="44.86" width="1.80" height="8.20" fill="#cdcdcd" />
<rect x="124.75" y="44.86" width="1.80" height="8.20" fill="#cdcdcd" />
<rect x="127.54" y="44.86" width="1.80" height="8.20" fill="#cdcdcd" />
<rect x="130.33" y="44.86" width="1.80" height="8.20" fill="#cdcdcd" />
<rect x="133.12" y="44.86" width="1.80" height="8.20" fill="#cdcdcd" />
<rect x="135.91" y="44.86" width="1.80" height="8.20" fill="#cdcdcd" />
<rect x="138.70" y="44.86" width="1.80" height="8.20" fill="#cdcdcd" />
<rect x="141.49" y="44.86" width="1.80" height="8.20" fill="#cdcdcd" />
<rect x="144.28" y="44.86" width="1.80" height="8.20" fill="#cdcdcd" />
<rect x="147.07" y="44.86" width="1.80" height="8.20" fill="#cdcdcd" />
<rect x="149.86" y="44.86" width="1.80" height="8.20" fill="#cdcdcd" />
<rect x="152.65" y="44.86" width="1.80" height="8.20" fill="#cdcdcd" />
<rect x="155.44" y="44.86" width="1.80" height="8.20" fill="#cdcdcd" />
<rect x="158.23" y="44.86" width="1.80" height="8.20" fill="#cdcdcd" />
<rect x="161.02" y="44.86" width="1.80" height="8.20" fill="#cdcdcd" />
<rect x="163.81" y="44.86" width="1.80" height="8.20" fill="#cdcdcd" />
<rect x="166.60" y="44.86" width="1.80" height="8.20" fill="#cdcdcd" />
<rect x="169.39" y="44.86" width="1.80" height="8.20" fill="#cdcdcd" />
<rect x="172.18" y="44.86" width="1.80" height="8.20" fill="#cdcdcd" />
<rect x="174.97" y="44.86" width="1.80" height="8.20" fill="#cdcdcd" />
<rect x="177.76" y="44.86" width="1.80" height="8.20" fill="#cdcdcd" />
<rect x="180.55" y="44.86" width="1.80" height="8.20" fill="#cdcdcd" />
<rect x="180.55" y="47.26" width="1.80" height="3.40" fill="#a06a20" />
<rect x="183.34" y="44.86" width="1.80" height="8.20" fill="#cdcdcd" />
<rect x="186.13" y="44.86" width="1.80" height="8.20" fill="#cdcdcd" />
<rect x="188.92" y="44.86" width="1.80" height="8.20" fill="#cdcdcd" />
<rect x="191.71" y="44.86" width="1.80" height="8.20" fill="#cdcdcd" />
<rect x="194.50" y="44.86" width="1.80" height="8.20" fill="#cdcdcd" />
<rect x="197.29" y="44.86" width="1.80" height="8.20" fill="#cdcdcd" />
<rect x="200.08" y="44.86" width="1.80" height="8.20" fill="#cdcdcd" />
<rect x="202.87" y="44.86" width="1.80" height="8.20" fill="#cdcdcd" />
<rect x="205.66" y="44.86" width="1.80" height="8.20" fill="#cdcdcd" />
<rect x="208.45" y="44.86" width="1.80" height="8.20" fill="#cdcdcd" />
<rect x="211.24" y="44.86" width="1.80" height="8.20" fill="#cdcdcd" />
<rect x="214.03" y="44.86" width="1.80" height="8.20" fill="#cdcdcd" />
<rect x="216.82" y="44.86" width="1.80" height="8.20" fill="#cdcdcd" />
<rect x="219.61" y="44.86" width="1.80" height="8.20" fill="#cdcdcd" />
<rect x="222.40" y="44.86" width="1.80" height="8.20" fill="#cdcdcd" />
<rect x="225.19" y="44.86" width="1.80" height="8.20" fill="#cdcdcd" />
<rect x="227.98" y="44.86" width="1.80" height="8.20" fill="#cdcdcd" />
<rect x="230.77" y="44.86" width="1.80" height="8.20" fill="#cdcdcd" />
<rect x="233.56" y="44.86" width="1.80" height="8.20" fill="#cdcdcd" />
<rect x="236.35" y="44.86" width="1.80" height="8.20" fill="#cdcdcd" />
<rect x="239.14" y="44.86" width="1.80" height="8.20" fill="#cdcdcd" />
<rect x="241.93" y="44.86" width="1.80" height="8.20" fill="#cdcdcd" />
<rect x="244.72" y="44.86" width="1.80" height="8.20" fill="#cdcdcd" />
<rect x="247.51" y="44.86" width="1.80" height="8.20" fill="#cdcdcd" />
<rect x="250.30" y="44.86" width="1.80" height="8.20" fill="#cdcdcd" />
<rect x="253.09" y="44.86" width="1.80" height="8.20" fill="#cdcdcd" />
<rect x="255.88" y="44.86" width="1.80" height="8.20" fill="#cdcdcd" />
<rect x="258.67" y="44.86" width="1.80" height="8.20" fill="#cdcdcd" />
<rect x="261.46" y="44.86" width="1.80" height="8.20" fill="#cdcdcd" />
<rect x="264.25" y="44.86" width="1.80" height="8.20" fill="#cdcdcd" />
<rect x="267.04" y="44.86" width="1.80" height="8.20" fill="#cdcdcd" />
<rect x="269.83" y="44.86" width="1.80" height="8.20" fill="#cdcdcd" />
<rect x="272.62" y="44.86" width="1.80" height="8.20" fill="#cdcdcd" />
<rect x="275.41" y="44.86" width="1.80" height="8.20" fill="#cdcdcd" />
<rect x="278.20" y="44.86" width="1.80" height="8.20" fill="#ee2222" />
<rect x="280.99" y="44.86" width="1.80" height="8.20" fill="#2b2d88" />
<rect x="283.78" y="44.86" width="1.80" height="8.20" fill="#2b2d88" />
<rect x="286.57" y="44.86" width="1.80" height="8.20" fill="#2b2d88" />
<rect x="289.36" y="44.86" width="1.80" height="8.20" fill="#2b2d88" />
<rect x="292.15" y="44.86" width="1.80" height="8.20" fill="#cdcdcd" />
<rect x="292.15" y="47.26" width="1.80" height="3.40" fill="#606068" />
<rect x="294.94" y="44.86" width="1.80" height="8.20" fill="#cdcdcd" />
<rect x="294.94" y="47.26" width="1.80" height="3.40" fill="#a06a20" />
<rect x="297.73" y="44.86" width="1.80" height="8.20" fill="#cdcdcd" />
<rect x="297.73" y="47.26" width="1.80" height="3.40" fill="#4ca01e" />
<rect x="300.52" y="44.86" width="1.80" height="8.20" fill="#cdcdcd" />
<rect x="300.52" y="47.26" width="1.80" height="3.40" fill="#4ca01e" />
<rect x="303.31" y="44.86" width="1.80" height="8.20" fill="#cdcdcd" />
<rect x="303.31" y="47.26" width="1.80" height="3.40" fill="#4ca01e" />
<rect x="306.10" y="44.86" width="1.80" height="8.20" fill="#cdcdcd" />
<rect x="306.10" y="47.26" width="1.80" height="3.40" fill="#4ca01e" />
<rect x="308.89" y="44.86" width="1.80" height="8.20" fill="#cdcdcd" />
<rect x="308.89" y="47.26" width="1.80" height="3.40" fill="#4ca01e" />
<rect x="311.68" y="44.86" width="1.80" height="8.20" fill="#cdcdcd" />
<rect x="311.68" y="47.26" width="1.80" height="3.40" fill="#4ca01e" />
<rect x="314.47" y="44.86" width="1.80" height="8.20" fill="#cdcdcd" />
<rect x="317.26" y="44.86" width="1.80" height="8.20" fill="#cdcdcd" />
<rect x="320.05" y="44.86" width="1.80" height="8.20" fill="#cdcdcd" />
<rect x="322.84" y="44.86" width="1.80" height="8.20" fill="#cdcdcd" />
<rect x="325.63" y="44.86" width="1.80" height="8.20" fill="#cdcdcd" />
<rect x="328.42" y="44.86" width="1.80" height="8.20" fill="#cdcdcd" />
<rect x="331.21" y="44.86" width="1.80" height="8.20" fill="#cdcdcd" />
<rect x="334.00" y="44.86" width="1.80" height="8.20" fill="#cdcdcd" />
<rect x="336.79" y="44.86" width="1.80" height="8.20" fill="#cdcdcd" />
<rect x="339.58" y="44.86" width="1.80" height="8.20" fill="#cdcdcd" />
<rect x="342.37" y="44.86" width="1.80" height="8.20" fill="#cdcdcd" />
<rect x="345.16" y="44.86" width="1.80" height="8.20" fill="#cdcdcd" />
<rect x="347.95" y="44.86" width="1.80" height="8.20" fill="#cdcdcd" />
<rect x="350.74" y="44.86" width="1.80" height="8.20" fill="#cdcdcd" />
<rect x="353.53" y="44.86" width="1.80" height="8.20" fill="#cdcdcd" />
<rect x="356.32" y="44.86" width="1.80" height="8.20" fill="#cdcdcd" />
<rect x="359.11" y="44.86" width="1.80" height="8.20" fill="#cdcdcd" />
<rect x="361.90" y="44.86" width="1.80" height="8.20" fill="#cdcdcd" />
<rect x="364.69" y="44.86" width="1.80" height="8.20" fill="#cdcdcd" />
<rect x="367.48" y="44.86" width="1.80" height="8.20" fill="#cdcdcd" />
<rect x="370.27" y="44.86" width="1.80" height="8.20" fill="#cdcdcd" />
<rect x="373.06" y="44.86" width="1.80" height="8.20" fill="#cdcdcd" />
<rect x="375.85" y="44.86" width="1.80" height="8.20" fill="#cdcdcd" />
<rect x="378.64" y="44.86" width="1.80" height="8.20" fill="#cdcdcd" />
<rect x="381.43" y="44.86" width="1.80" height="8.20" fill="#cdcdcd" />
<rect x="384.22" y="44.86" width="1.80" height="8.20" fill="#cdcdcd" />
<rect x="387.01" y="44.86" width="1.80" height="8.20" fill="#cdcdcd" />
<rect x="389.80" y="44.86" width="1.80" height="8.20" fill="#cdcdcd" />
<rect x="392.59" y="44.86" width="1.80" height="8.20" fill="#cdcdcd" />
<rect x="395.38" y="44.86" width="1.80" height="8.20" fill="#cdcdcd" />
<rect x="398.17" y="44.86" width="1.80" height="8.20" fill="#cdcdcd" />
<rect x="400.96" y="44.86" width="1.80" height="8.20" fill="#cdcdcd" />
<rect x="403.75" y="44.86" width="1.80" height="8.20" fill="#cdcdcd" />
<rect x="406.54" y="44.86" width="1.80" height="8.20" fill="#cdcdcd" />
<rect x="409.33" y="44.86" width="1.80" height="8.20" fill="#cdcdcd" />
<rect x="412.12" y="44.86" width="1.80" height="8.20" fill="#cdcdcd" />
<rect x="414.91" y="44.86" width="1.80" height="8.20" fill="#cdcdcd" />
<rect x="417.70" y="44.86" width="1.80" height="8.20" fill="#cdcdcd" />
<rect x="420.49" y="44.86" width="1.80" height="8.20" fill="#cdcdcd" />
<rect x="423.28" y="44.86" width="1.80" height="8.20" fill="#cdcdcd" />
<rect x="426.07" y="44.86" width="1.80" height="8.20" fill="#cdcdcd" />
<rect x="428.86" y="44.86" width="1.80" height="8.20" fill="#cdcdcd" />
<rect x="431.65" y="44.86" width="1.80" height="8.20" fill="#cdcdcd" />
<rect x="434.44" y="44.86" width="1.80" height="8.20" fill="#cdcdcd" />
<rect x="437.23" y="44.86" width="1.80" height="8.20" fill="#cdcdcd" />
<rect x="440.02" y="44.86" width="1.80" height="8.20" fill="#cdcdcd" />
<rect x="442.81" y="44.86" width="1.80" height="8.20" fill="#cdcdcd" />
<rect x="445.60" y="44.86" width="1.80" height="8.20" fill="#cdcdcd" />
<rect x="448.39" y="44.86" width="1.80" height="8.20" fill="#cdcdcd" />
<rect x="451.18" y="44.86" width="1.80" height="8.20" fill="#cdcdcd" />
<rect x="453.97" y="44.86" width="1.80" height="8.20" fill="#cdcdcd" />
<rect x="456.76" y="44.86" width="1.80" height="8.20" fill="#cdcdcd" />
<rect x="459.55" y="44.86" width="1.80" height="8.20" fill="#cdcdcd" />
<rect x="462.34" y="44.86" width="1.80" height="8.20" fill="#cdcdcd" />
<rect x="465.13" y="44.86" width="1.80" height="8.20" fill="#cdcdcd" />
<rect x="467.92" y="44.86" width="1.80" height="8.20" fill="#cdcdcd" />
<rect x="470.71" y="44.86" width="1.80" height="8.20" fill="#cdcdcd" />
<rect x="473.50" y="44.86" width="1.80" height="8.20" fill="#cdcdcd" />
<rect x="476.29" y="44.86" width="1.80" height="8.20" fill="#cdcdcd" />
<rect x="479.08" y="44.86" width="1.80" height="8.20" fill="#cdcdcd" />
<rect x="481.87" y="44.86" width="1.80" height="8.20" fill="#cdcdcd" />
<rect x="484.66" y="44.86" width="1.80" height="8.20" fill="#cdcdcd" />
<rect x="487.45" y="44.86" width="1.80" height="8.20" fill="#cdcdcd" />
<rect x="490.24" y="44.86" width="1.80" height="8.20" fill="#cdcdcd" />
<rect x="493.03" y="44.86" width="1.80" height="8.20" fill="#cdcdcd" />
<rect x="495.82" y="44.86" width="1.80" height="8.20" fill="#cdcdcd" />
<rect x="498.61" y="44.86" width="1.80" height="8.20" fill="#cdcdcd" />
<rect x="501.40" y="44.86" width="1.80" height="8.20" fill="#cdcdcd" />
<rect x="504.19" y="44.86" width="1.80" height="8.20" fill="#cdcdcd" />
<rect x="506.98" y="44.86" width="1.80" height="8.20" fill="#cdcdcd" />
<rect x="509.77" y="44.86" width="1.80" height="8.20" fill="#cdcdcd" />
<rect x="512.56" y="44.86" width="1.80" height="8.20" fill="#cdcdcd" />
<rect x="515.35" y="44.86" width="1.80" height="8.20" fill="#cdcdcd" />
<rect x="518.14" y="44.86" width="1.80" height="8.20" fill="#cdcdcd" />
<rect x="520.93" y="44.86" width="1.80" height="8.20" fill="#cdcdcd" />
<rect x="523.72" y="44.86" width="1.80" height="8.20" fill="#cdcdcd" />
<rect x="526.51" y="44.86" width="1.80" height="8.20" fill="#cdcdcd" />
<rect x="529.30" y="44.86" width="1.80" height="8.20" fill="#cdcdcd" />
<rect x="532.09" y="44.86" width="1.80" height="8.20" fill="#cdcdcd" />
<rect x="534.88" y="44.86" width="1.80" height="8.20" fill="#cdcdcd" />
<rect x="537.67" y="44.86" width="1.80" height="8.20" fill="#cdcdcd" />
<rect x="540.46" y="44.86" width="1.80" height="8.20" fill="#cdcdcd" />
<rect x="543.25" y="44.86" width="1.80" height="8.20" fill="#cdcdcd" />
<text x="7.00" y="62.29" font-size="5.7" text-anchor="start" fill="#2a2a2a" stroke="#2a2a2a" stroke-width="0.12">ANGPTL4</text>
<text x="40.30" y="62.09" font-size="4.45" text-anchor="start" fill="#333" stroke="#333" stroke-width="0.08">0.6%*</text>
<rect x="55.00" y="56.29" width="1.80" height="8.20" fill="#cdcdcd" />
<rect x="57.79" y="56.29" width="1.80" height="8.20" fill="#cdcdcd" />
<rect x="60.58" y="56.29" width="1.80" height="8.20" fill="#cdcdcd" />
<rect x="63.37" y="56.29" width="1.80" height="8.20" fill="#cdcdcd" />
<rect x="66.16" y="56.29" width="1.80" height="8.20" fill="#cdcdcd" />
<rect x="68.95" y="56.29" width="1.80" height="8.20" fill="#cdcdcd" />
<rect x="71.74" y="56.29" width="1.80" height="8.20" fill="#cdcdcd" />
<rect x="74.53" y="56.29" width="1.80" height="8.20" fill="#cdcdcd" />
<rect x="77.32" y="56.29" width="1.80" height="8.20" fill="#cdcdcd" />
<rect x="80.11" y="56.29" width="1.80" height="8.20" fill="#cdcdcd" />
<rect x="82.90" y="56.29" width="1.80" height="8.20" fill="#cdcdcd" />
<rect x="85.69" y="56.29" width="1.80" height="8.20" fill="#cdcdcd" />
<rect x="88.48" y="56.29" width="1.80" height="8.20" fill="#cdcdcd" />
<rect x="91.27" y="56.29" width="1.80" height="8.20" fill="#cdcdcd" />
<rect x="94.06" y="56.29" width="1.80" height="8.20" fill="#cdcdcd" />
<rect x="96.85" y="56.29" width="1.80" height="8.20" fill="#cdcdcd" />
<rect x="96.85" y="58.69" width="1.80" height="3.40" fill="#4ca01e" />
<rect x="99.64" y="56.29" width="1.80" height="8.20" fill="#cdcdcd" />
<rect x="102.43" y="56.29" width="1.80" height="8.20" fill="#cdcdcd" />
<rect x="102.43" y="58.69" width="1.80" height="3.40" fill="#f0a060" />
<rect x="105.22" y="56.29" width="1.80" height="8.20" fill="#cdcdcd" />
<rect x="108.01" y="56.29" width="1.80" height="8.20" fill="#cdcdcd" />
<rect x="110.80" y="56.29" width="1.80" height="8.20" fill="#ee2222" />
<rect x="113.59" y="56.29" width="1.80" height="8.20" fill="#cdcdcd" />
<rect x="116.38" y="56.29" width="1.80" height="8.20" fill="#cdcdcd" />
<rect x="119.17" y="56.29" width="1.80" height="8.20" fill="#cdcdcd" />
<rect x="121.96" y="56.29" width="1.80" height="8.20" fill="#cdcdcd" />
<rect x="124.75" y="56.29" width="1.80" height="8.20" fill="#cdcdcd" />
<rect x="127.54" y="56.29" width="1.80" height="8.20" fill="#cdcdcd" />
<rect x="130.33" y="56.29" width="1.80" height="8.20" fill="#cdcdcd" />
<rect x="133.12" y="56.29" width="1.80" height="8.20" fill="#cdcdcd" />
<rect x="135.91" y="56.29" width="1.80" height="8.20" fill="#cdcdcd" />
<rect x="138.70" y="56.29" width="1.80" height="8.20" fill="#cdcdcd" />
<rect x="141.49" y="56.29" width="1.80" height="8.20" fill="#cdcdcd" />
<rect x="144.28" y="56.29" width="1.80" height="8.20" fill="#cdcdcd" />
<rect x="147.07" y="56.29" width="1.80" height="8.20" fill="#cdcdcd" />
<rect x="149.86" y="56.29" width="1.80" height="8.20" fill="#cdcdcd" />
<rect x="152.65" y="56.29" width="1.80" height="8.20" fill="#cdcdcd" />
<rect x="155.44" y="56.29" width="1.80" height="8.20" fill="#cdcdcd" />
<rect x="158.23" y="56.29" width="1.80" height="8.20" fill="#cdcdcd" />
<rect x="161.02" y="56.29" width="1.80" height="8.20" fill="#cdcdcd" />
<rect x="163.81" y="56.29" width="1.80" height="8.20" fill="#cdcdcd" />
<rect x="166.60" y="56.29" width="1.80" height="8.20" fill="#cdcdcd" />
<rect x="169.39" y="56.29" width="1.80" height="8.20" fill="#cdcdcd" />
<rect x="172.18" y="56.29" width="1.80" height="8.20" fill="#cdcdcd" />
<rect x="174.97" y="56.29" width="1.80" height="8.20" fill="#cdcdcd" />
<rect x="177.76" y="56.29" width="1.80" height="8.20" fill="#cdcdcd" />
<rect x="180.55" y="56.29" width="1.80" height="8.20" fill="#cdcdcd" />
<rect x="183.34" y="56.29" width="1.80" height="8.20" fill="#cdcdcd" />
<rect x="186.13" y="56.29" width="1.80" height="8.20" fill="#cdcdcd" />
<rect x="188.92" y="56.29" width="1.80" height="8.20" fill="#cdcdcd" />
<rect x="191.71" y="56.29" width="1.80" height="8.20" fill="#cdcdcd" />
<rect x="194.50" y="56.29" width="1.80" height="8.20" fill="#cdcdcd" />
<rect x="197.29" y="56.29" width="1.80" height="8.20" fill="#cdcdcd" />
<rect x="200.08" y="56.29" width="1.80" height="8.20" fill="#cdcdcd" />
<rect x="202.87" y="56.29" width="1.80" height="8.20" fill="#cdcdcd" />
<rect x="205.66" y="56.29" width="1.80" height="8.20" fill="#cdcdcd" />
<rect x="208.45" y="56.29" width="1.80" height="8.20" fill="#cdcdcd" />
<rect x="211.24" y="56.29" width="1.80" height="8.20" fill="#cdcdcd" />
<rect x="214.03" y="56.29" width="1.80" height="8.20" fill="#cdcdcd" />
<rect x="216.82" y="56.29" width="1.80" height="8.20" fill="#cdcdcd" />
<rect x="219.61" y="56.29" width="1.80" height="8.20" fill="#cdcdcd" />
<rect x="222.40" y="56.29" width="1.80" height="8.20" fill="#cdcdcd" />
<rect x="225.19" y="56.29" width="1.80" height="8.20" fill="#cdcdcd" />
<rect x="227.98" y="56.29" width="1.80" height="8.20" fill="#cdcdcd" />
<rect x="230.77" y="56.29" width="1.80" height="8.20" fill="#cdcdcd" />
<rect x="233.56" y="56.29" width="1.80" height="8.20" fill="#cdcdcd" />
<rect x="236.35" y="56.29" width="1.80" height="8.20" fill="#cdcdcd" />
<rect x="239.14" y="56.29" width="1.80" height="8.20" fill="#cdcdcd" />
<rect x="241.93" y="56.29" width="1.80" height="8.20" fill="#cdcdcd" />
<rect x="244.72" y="56.29" width="1.80" height="8.20" fill="#cdcdcd" />
<rect x="247.51" y="56.29" width="1.80" height="8.20" fill="#cdcdcd" />
<rect x="250.30" y="56.29" width="1.80" height="8.20" fill="#cdcdcd" />
<rect x="253.09" y="56.29" width="1.80" height="8.20" fill="#cdcdcd" />
<rect x="255.88" y="56.29" width="1.80" height="8.20" fill="#cdcdcd" />
<rect x="258.67" y="56.29" width="1.80" height="8.20" fill="#cdcdcd" />
<rect x="261.46" y="56.29" width="1.80" height="8.20" fill="#cdcdcd" />
<rect x="264.25" y="56.29" width="1.80" height="8.20" fill="#cdcdcd" />
<rect x="267.04" y="56.29" width="1.80" height="8.20" fill="#cdcdcd" />
<rect x="269.83" y="56.29" width="1.80" height="8.20" fill="#cdcdcd" />
<rect x="272.62" y="56.29" width="1.80" height="8.20" fill="#cdcdcd" />
<rect x="275.41" y="56.29" width="1.80" height="8.20" fill="#cdcdcd" />
<rect x="278.20" y="56.29" width="1.80" height="8.20" fill="#cdcdcd" />
<rect x="280.99" y="56.29" width="1.80" height="8.20" fill="#2b2d88" />
<rect x="283.78" y="56.29" width="1.80" height="8.20" fill="#cdcdcd" />
<rect x="286.57" y="56.29" width="1.80" height="8.20" fill="#cdcdcd" />
<rect x="289.36" y="56.29" width="1.80" height="8.20" fill="#cdcdcd" />
<rect x="292.15" y="56.29" width="1.80" height="8.20" fill="#cdcdcd" />
<rect x="294.94" y="56.29" width="1.80" height="8.20" fill="#cdcdcd" />
<rect x="297.73" y="56.29" width="1.80" height="8.20" fill="#cdcdcd" />
<rect x="297.73" y="58.69" width="1.80" height="3.40" fill="#4ca01e" />
<rect x="300.52" y="56.29" width="1.80" height="8.20" fill="#cdcdcd" />
<rect x="303.31" y="56.29" width="1.80" height="8.20" fill="#cdcdcd" />
<rect x="306.10" y="56.29" width="1.80" height="8.20" fill="#cdcdcd" />
<rect x="308.89" y="56.29" width="1.80" height="8.20" fill="#cdcdcd" />
<rect x="311.68" y="56.29" width="1.80" height="8.20" fill="#cdcdcd" />
<rect x="314.47" y="56.29" width="1.80" height="8.20" fill="#ee2222" />
<rect x="317.26" y="56.29" width="1.80" height="8.20" fill="#2b2d88" />
<rect x="320.05" y="56.29" width="1.80" height="8.20" fill="#2b2d88" />
<rect x="322.84" y="56.29" width="1.80" height="8.20" fill="#2b2d88" />
<rect x="325.63" y="56.29" width="1.80" height="8.20" fill="#2b2d88" />
<rect x="328.42" y="56.29" width="1.80" height="8.20" fill="#2b2d88" />
<rect x="331.21" y="56.29" width="1.80" height="8.20" fill="#2b2d88" />
<rect x="334.00" y="56.29" width="1.80" height="8.20" fill="#2b2d88" />
<rect x="336.79" y="56.29" width="1.80" height="8.20" fill="#2b2d88" />
<rect x="339.58" y="56.29" width="1.80" height="8.20" fill="#2b2d88" />
<rect x="342.37" y="56.29" width="1.80" height="8.20" fill="#cdcdcd" />
<rect x="342.37" y="58.69" width="1.80" height="3.40" fill="#4ca01e" />
<rect x="345.16" y="56.29" width="1.80" height="8.20" fill="#cdcdcd" />
<rect x="345.16" y="58.69" width="1.80" height="3.40" fill="#4ca01e" />
<rect x="347.95" y="56.29" width="1.80" height="8.20" fill="#cdcdcd" />
<rect x="347.95" y="58.69" width="1.80" height="3.40" fill="#4ca01e" />
<rect x="350.74" y="56.29" width="1.80" height="8.20" fill="#cdcdcd" />
<rect x="350.74" y="58.69" width="1.80" height="3.40" fill="#4ca01e" />
<rect x="353.53" y="56.29" width="1.80" height="8.20" fill="#cdcdcd" />
<rect x="353.53" y="58.69" width="1.80" height="3.40" fill="#4ca01e" />
<rect x="356.32" y="56.29" width="1.80" height="8.20" fill="#cdcdcd" />
<rect x="356.32" y="58.69" width="1.80" height="3.40" fill="#4ca01e" />
<rect x="359.11" y="56.29" width="1.80" height="8.20" fill="#cdcdcd" />
<rect x="359.11" y="58.69" width="1.80" height="3.40" fill="#4ca01e" />
<rect x="361.90" y="56.29" width="1.80" height="8.20" fill="#cdcdcd" />
<rect x="364.69" y="56.29" width="1.80" height="8.20" fill="#cdcdcd" />
<rect x="367.48" y="56.29" width="1.80" height="8.20" fill="#cdcdcd" />
<rect x="370.27" y="56.29" width="1.80" height="8.20" fill="#cdcdcd" />
<rect x="373.06" y="56.29" width="1.80" height="8.20" fill="#cdcdcd" />
<rect x="375.85" y="56.29" width="1.80" height="8.20" fill="#cdcdcd" />
<rect x="378.64" y="56.29" width="1.80" height="8.20" fill="#cdcdcd" />
<rect x="381.43" y="56.29" width="1.80" height="8.20" fill="#cdcdcd" />
<rect x="384.22" y="56.29" width="1.80" height="8.20" fill="#cdcdcd" />
<rect x="387.01" y="56.29" width="1.80" height="8.20" fill="#cdcdcd" />
<rect x="389.80" y="56.29" width="1.80" height="8.20" fill="#cdcdcd" />
<rect x="392.59" y="56.29" width="1.80" height="8.20" fill="#cdcdcd" />
<rect x="395.38" y="56.29" width="1.80" height="8.20" fill="#cdcdcd" />
<rect x="398.17" y="56.29" width="1.80" height="8.20" fill="#cdcdcd" />
<rect x="400.96" y="56.29" width="1.80" height="8.20" fill="#cdcdcd" />
<rect x="403.75" y="56.29" width="1.80" height="8.20" fill="#cdcdcd" />
<rect x="406.54" y="56.29" width="1.80" height="8.20" fill="#cdcdcd" />
<rect x="409.33" y="56.29" width="1.80" height="8.20" fill="#cdcdcd" />
<rect x="412.12" y="56.29" width="1.80" height="8.20" fill="#cdcdcd" />
<rect x="414.91" y="56.29" width="1.80" height="8.20" fill="#cdcdcd" />
<rect x="417.70" y="56.29" width="1.80" height="8.20" fill="#cdcdcd" />
<rect x="420.49" y="56.29" width="1.80" height="8.20" fill="#cdcdcd" />
<rect x="423.28" y="56.29" width="1.80" height="8.20" fill="#cdcdcd" />
<rect x="426.07" y="56.29" width="1.80" height="8.20" fill="#cdcdcd" />
<rect x="428.86" y="56.29" width="1.80" height="8.20" fill="#cdcdcd" />
<rect x="431.65" y="56.29" width="1.80" height="8.20" fill="#cdcdcd" />
<rect x="434.44" y="56.29" width="1.80" height="8.20" fill="#cdcdcd" />
<rect x="437.23" y="56.29" width="1.80" height="8.20" fill="#cdcdcd" />
<rect x="440.02" y="56.29" width="1.80" height="8.20" fill="#cdcdcd" />
<rect x="442.81" y="56.29" width="1.80" height="8.20" fill="#cdcdcd" />
<rect x="445.60" y="56.29" width="1.80" height="8.20" fill="#cdcdcd" />
<rect x="448.39" y="56.29" width="1.80" height="8.20" fill="#cdcdcd" />
<rect x="451.18" y="56.29" width="1.80" height="8.20" fill="#cdcdcd" />
<rect x="453.97" y="56.29" width="1.80" height="8.20" fill="#cdcdcd" />
<rect x="456.76" y="56.29" width="1.80" height="8.20" fill="#cdcdcd" />
<rect x="459.55" y="56.29" width="1.80" height="8.20" fill="#cdcdcd" />
<rect x="462.34" y="56.29" width="1.80" height="8.20" fill="#cdcdcd" />
<rect x="465.13" y="56.29" width="1.80" height="8.20" fill="#cdcdcd" />
<rect x="467.92" y="56.29" width="1.80" height="8.20" fill="#cdcdcd" />
<rect x="470.71" y="56.29" width="1.80" height="8.20" fill="#cdcdcd" />
<rect x="473.50" y="56.29" width="1.80" height="8.20" fill="#cdcdcd" />
<rect x="476.29" y="56.29" width="1.80" height="8.20" fill="#cdcdcd" />
<rect x="479.08" y="56.29" width="1.80" height="8.20" fill="#cdcdcd" />
<rect x="481.87" y="56.29" width="1.80" height="8.20" fill="#cdcdcd" />
<rect x="484.66" y="56.29" width="1.80" height="8.20" fill="#cdcdcd" />
<rect x="487.45" y="56.29" width="1.80" height="8.20" fill="#cdcdcd" />
<rect x="490.24" y="56.29" width="1.80" height="8.20" fill="#cdcdcd" />
<rect x="493.03" y="56.29" width="1.80" height="8.20" fill="#cdcdcd" />
<rect x="495.82" y="56.29" width="1.80" height="8.20" fill="#cdcdcd" />
<rect x="498.61" y="56.29" width="1.80" height="8.20" fill="#cdcdcd" />
<rect x="501.40" y="56.29" width="1.80" height="8.20" fill="#cdcdcd" />
<rect x="504.19" y="56.29" width="1.80" height="8.20" fill="#cdcdcd" />
<rect x="506.98" y="56.29" width="1.80" height="8.20" fill="#cdcdcd" />
<rect x="509.77" y="56.29" width="1.80" height="8.20" fill="#cdcdcd" />
<rect x="512.56" y="56.29" width="1.80" height="8.20" fill="#cdcdcd" />
<rect x="515.35" y="56.29" width="1.80" height="8.20" fill="#cdcdcd" />
<rect x="518.14" y="56.29" width="1.80" height="8.20" fill="#cdcdcd" />
<rect x="520.93" y="56.29" width="1.80" height="8.20" fill="#cdcdcd" />
<rect x="523.72" y="56.29" width="1.80" height="8.20" fill="#cdcdcd" />
<rect x="526.51" y="56.29" width="1.80" height="8.20" fill="#cdcdcd" />
<rect x="529.30" y="56.29" width="1.80" height="8.20" fill="#cdcdcd" />
<rect x="532.09" y="56.29" width="1.80" height="8.20" fill="#cdcdcd" />
<rect x="534.88" y="56.29" width="1.80" height="8.20" fill="#cdcdcd" />
<rect x="537.67" y="56.29" width="1.80" height="8.20" fill="#cdcdcd" />
<rect x="540.46" y="56.29" width="1.80" height="8.20" fill="#cdcdcd" />
<rect x="543.25" y="56.29" width="1.80" height="8.20" fill="#cdcdcd" />
<text x="7.00" y="73.72" font-size="5.7" text-anchor="start" fill="#2a2a2a" stroke="#2a2a2a" stroke-width="0.12">ANGPTL5</text>
<text x="40.30" y="73.52" font-size="4.45" text-anchor="start" fill="#333" stroke="#333" stroke-width="0.08">1.2%*</text>
<rect x="55.00" y="67.72" width="1.80" height="8.20" fill="#cdcdcd" />
<rect x="57.79" y="67.72" width="1.80" height="8.20" fill="#cdcdcd" />
<rect x="60.58" y="67.72" width="1.80" height="8.20" fill="#cdcdcd" />
<rect x="63.37" y="67.72" width="1.80" height="8.20" fill="#cdcdcd" />
<rect x="66.16" y="67.72" width="1.80" height="8.20" fill="#cdcdcd" />
<rect x="68.95" y="67.72" width="1.80" height="8.20" fill="#cdcdcd" />
<rect x="71.74" y="67.72" width="1.80" height="8.20" fill="#cdcdcd" />
<rect x="74.53" y="67.72" width="1.80" height="8.20" fill="#cdcdcd" />
<rect x="77.32" y="67.72" width="1.80" height="8.20" fill="#cdcdcd" />
<rect x="80.11" y="67.72" width="1.80" height="8.20" fill="#cdcdcd" />
<rect x="82.90" y="67.72" width="1.80" height="8.20" fill="#cdcdcd" />
<rect x="85.69" y="67.72" width="1.80" height="8.20" fill="#cdcdcd" />
<rect x="85.69" y="70.12" width="1.80" height="3.40" fill="#4ca01e" />
<rect x="88.48" y="67.72" width="1.80" height="8.20" fill="#cdcdcd" />
<rect x="91.27" y="67.72" width="1.80" height="8.20" fill="#cdcdcd" />
<rect x="94.06" y="67.72" width="1.80" height="8.20" fill="#cdcdcd" />
<rect x="96.85" y="67.72" width="1.80" height="8.20" fill="#cdcdcd" />
<rect x="96.85" y="70.12" width="1.80" height="3.40" fill="#4ca01e" />
<rect x="99.64" y="67.72" width="1.80" height="8.20" fill="#cdcdcd" />
<rect x="99.64" y="70.12" width="1.80" height="3.40" fill="#4ca01e" />
<rect x="102.43" y="67.72" width="1.80" height="8.20" fill="#cdcdcd" />
<rect x="102.43" y="70.12" width="1.80" height="3.40" fill="#4ca01e" />
<rect x="105.22" y="67.72" width="1.80" height="8.20" fill="#cdcdcd" />
<rect x="105.22" y="70.12" width="1.80" height="3.40" fill="#4ca01e" />
<rect x="108.01" y="67.72" width="1.80" height="8.20" fill="#cdcdcd" />
<rect x="108.01" y="70.12" width="1.80" height="3.40" fill="#4ca01e" />
<rect x="110.80" y="67.72" width="1.80" height="8.20" fill="#cdcdcd" />
<rect x="110.80" y="70.12" width="1.80" height="3.40" fill="#4ca01e" />
<rect x="113.59" y="67.72" width="1.80" height="8.20" fill="#cdcdcd" />
<rect x="113.59" y="70.12" width="1.80" height="3.40" fill="#4ca01e" />
<rect x="116.38" y="67.72" width="1.80" height="8.20" fill="#cdcdcd" />
<rect x="116.38" y="70.12" width="1.80" height="3.40" fill="#4ca01e" />
<rect x="119.17" y="67.72" width="1.80" height="8.20" fill="#cdcdcd" />
<rect x="119.17" y="70.12" width="1.80" height="3.40" fill="#4ca01e" />
<rect x="121.96" y="67.72" width="1.80" height="8.20" fill="#cdcdcd" />
<rect x="124.75" y="67.72" width="1.80" height="8.20" fill="#cdcdcd" />
<rect x="127.54" y="67.72" width="1.80" height="8.20" fill="#cdcdcd" />
<rect x="130.33" y="67.72" width="1.80" height="8.20" fill="#cdcdcd" />
<rect x="133.12" y="67.72" width="1.80" height="8.20" fill="#cdcdcd" />
<rect x="135.91" y="67.72" width="1.80" height="8.20" fill="#cdcdcd" />
<rect x="138.70" y="67.72" width="1.80" height="8.20" fill="#cdcdcd" />
<rect x="141.49" y="67.72" width="1.80" height="8.20" fill="#cdcdcd" />
<rect x="144.28" y="67.72" width="1.80" height="8.20" fill="#cdcdcd" />
<rect x="147.07" y="67.72" width="1.80" height="8.20" fill="#cdcdcd" />
<rect x="149.86" y="67.72" width="1.80" height="8.20" fill="#cdcdcd" />
<rect x="152.65" y="67.72" width="1.80" height="8.20" fill="#cdcdcd" />
<rect x="155.44" y="67.72" width="1.80" height="8.20" fill="#cdcdcd" />
<rect x="158.23" y="67.72" width="1.80" height="8.20" fill="#cdcdcd" />
<rect x="161.02" y="67.72" width="1.80" height="8.20" fill="#cdcdcd" />
<rect x="163.81" y="67.72" width="1.80" height="8.20" fill="#cdcdcd" />
<rect x="166.60" y="67.72" width="1.80" height="8.20" fill="#cdcdcd" />
<rect x="166.60" y="70.12" width="1.80" height="3.40" fill="#4ca01e" />
<rect x="169.39" y="67.72" width="1.80" height="8.20" fill="#cdcdcd" />
<rect x="169.39" y="70.12" width="1.80" height="3.40" fill="#4ca01e" />
<rect x="172.18" y="67.72" width="1.80" height="8.20" fill="#cdcdcd" />
<rect x="174.97" y="67.72" width="1.80" height="8.20" fill="#cdcdcd" />
<rect x="177.76" y="67.72" width="1.80" height="8.20" fill="#cdcdcd" />
<rect x="180.55" y="67.72" width="1.80" height="8.20" fill="#cdcdcd" />
<rect x="183.34" y="67.72" width="1.80" height="8.20" fill="#cdcdcd" />
<rect x="183.34" y="70.12" width="1.80" height="3.40" fill="#606068" />
<rect x="186.13" y="67.72" width="1.80" height="8.20" fill="#cdcdcd" />
<rect x="186.13" y="70.12" width="1.80" height="3.40" fill="#606068" />
<rect x="188.92" y="67.72" width="1.80" height="8.20" fill="#cdcdcd" />
<rect x="188.92" y="70.12" width="1.80" height="3.40" fill="#606068" />
<rect x="191.71" y="67.72" width="1.80" height="8.20" fill="#cdcdcd" />
<rect x="191.71" y="70.12" width="1.80" height="3.40" fill="#4ca01e" />
<rect x="194.50" y="67.72" width="1.80" height="8.20" fill="#cdcdcd" />
<rect x="194.50" y="70.12" width="1.80" height="3.40" fill="#4ca01e" />
<rect x="197.29" y="67.72" width="1.80" height="8.20" fill="#cdcdcd" />
<rect x="197.29" y="70.12" width="1.80" height="3.40" fill="#4ca01e" />
<rect x="200.08" y="67.72" width="1.80" height="8.20" fill="#cdcdcd" />
<rect x="200.08" y="70.12" width="1.80" height="3.40" fill="#4ca01e" />
<rect x="202.87" y="67.72" width="1.80" height="8.20" fill="#cdcdcd" />
<rect x="205.66" y="67.72" width="1.80" height="8.20" fill="#cdcdcd" />
<rect x="208.45" y="67.72" width="1.80" height="8.20" fill="#cdcdcd" />
<rect x="211.24" y="67.72" width="1.80" height="8.20" fill="#cdcdcd" />
<rect x="214.03" y="67.72" width="1.80" height="8.20" fill="#cdcdcd" />
<rect x="216.82" y="67.72" width="1.80" height="8.20" fill="#cdcdcd" />
<rect x="219.61" y="67.72" width="1.80" height="8.20" fill="#cdcdcd" />
<rect x="222.40" y="67.72" width="1.80" height="8.20" fill="#cdcdcd" />
<rect x="225.19" y="67.72" width="1.80" height="8.20" fill="#cdcdcd" />
<rect x="227.98" y="67.72" width="1.80" height="8.20" fill="#cdcdcd" />
<rect x="230.77" y="67.72" width="1.80" height="8.20" fill="#cdcdcd" />
<rect x="233.56" y="67.72" width="1.80" height="8.20" fill="#cdcdcd" />
<rect x="236.35" y="67.72" width="1.80" height="8.20" fill="#cdcdcd" />
<rect x="239.14" y="67.72" width="1.80" height="8.20" fill="#cdcdcd" />
<rect x="241.93" y="67.72" width="1.80" height="8.20" fill="#cdcdcd" />
<rect x="244.72" y="67.72" width="1.80" height="8.20" fill="#cdcdcd" />
<rect x="247.51" y="67.72" width="1.80" height="8.20" fill="#cdcdcd" />
<rect x="250.30" y="67.72" width="1.80" height="8.20" fill="#cdcdcd" />
<rect x="253.09" y="67.72" width="1.80" height="8.20" fill="#cdcdcd" />
<rect x="255.88" y="67.72" width="1.80" height="8.20" fill="#cdcdcd" />
<rect x="258.67" y="67.72" width="1.80" height="8.20" fill="#cdcdcd" />
<rect x="261.46" y="67.72" width="1.80" height="8.20" fill="#cdcdcd" />
<rect x="264.25" y="67.72" width="1.80" height="8.20" fill="#cdcdcd" />
<rect x="267.04" y="67.72" width="1.80" height="8.20" fill="#cdcdcd" />
<rect x="269.83" y="67.72" width="1.80" height="8.20" fill="#cdcdcd" />
<rect x="272.62" y="67.72" width="1.80" height="8.20" fill="#cdcdcd" />
<rect x="275.41" y="67.72" width="1.80" height="8.20" fill="#cdcdcd" />
<rect x="278.20" y="67.72" width="1.80" height="8.20" fill="#cdcdcd" />
<rect x="280.99" y="67.72" width="1.80" height="8.20" fill="#cdcdcd" />
<rect x="283.78" y="67.72" width="1.80" height="8.20" fill="#cdcdcd" />
<rect x="286.57" y="67.72" width="1.80" height="8.20" fill="#cdcdcd" />
<rect x="289.36" y="67.72" width="1.80" height="8.20" fill="#cdcdcd" />
<rect x="292.15" y="67.72" width="1.80" height="8.20" fill="#cdcdcd" />
<rect x="294.94" y="67.72" width="1.80" height="8.20" fill="#cdcdcd" />
<rect x="297.73" y="67.72" width="1.80" height="8.20" fill="#cdcdcd" />
<rect x="300.52" y="67.72" width="1.80" height="8.20" fill="#cdcdcd" />
<rect x="303.31" y="67.72" width="1.80" height="8.20" fill="#cdcdcd" />
<rect x="306.10" y="67.72" width="1.80" height="8.20" fill="#cdcdcd" />
<rect x="308.89" y="67.72" width="1.80" height="8.20" fill="#cdcdcd" />
<rect x="311.68" y="67.72" width="1.80" height="8.20" fill="#cdcdcd" />
<rect x="314.47" y="67.72" width="1.80" height="8.20" fill="#cdcdcd" />
<rect x="317.26" y="67.72" width="1.80" height="8.20" fill="#cdcdcd" />
<rect x="320.05" y="67.72" width="1.80" height="8.20" fill="#cdcdcd" />
<rect x="322.84" y="67.72" width="1.80" height="8.20" fill="#cdcdcd" />
<rect x="325.63" y="67.72" width="1.80" height="8.20" fill="#cdcdcd" />
<rect x="328.42" y="67.72" width="1.80" height="8.20" fill="#cdcdcd" />
<rect x="331.21" y="67.72" width="1.80" height="8.20" fill="#cdcdcd" />
<rect x="334.00" y="67.72" width="1.80" height="8.20" fill="#cdcdcd" />
<rect x="336.79" y="67.72" width="1.80" height="8.20" fill="#cdcdcd" />
<rect x="339.58" y="67.72" width="1.80" height="8.20" fill="#cdcdcd" />
<rect x="342.37" y="67.72" width="1.80" height="8.20" fill="#cdcdcd" />
<rect x="345.16" y="67.72" width="1.80" height="8.20" fill="#cdcdcd" />
<rect x="347.95" y="67.72" width="1.80" height="8.20" fill="#cdcdcd" />
<rect x="350.74" y="67.72" width="1.80" height="8.20" fill="#cdcdcd" />
<rect x="353.53" y="67.72" width="1.80" height="8.20" fill="#cdcdcd" />
<rect x="356.32" y="67.72" width="1.80" height="8.20" fill="#cdcdcd" />
<rect x="359.11" y="67.72" width="1.80" height="8.20" fill="#cdcdcd" />
<rect x="361.90" y="67.72" width="1.80" height="8.20" fill="#ee2222" />
<rect x="364.69" y="67.72" width="1.80" height="8.20" fill="#ee2222" />
<rect x="367.48" y="67.72" width="1.80" height="8.20" fill="#ee2222" />
<rect x="370.27" y="67.72" width="1.80" height="8.20" fill="#ee2222" />
<rect x="373.06" y="67.72" width="1.80" height="8.20" fill="#2b2d88" />
<rect x="375.85" y="67.72" width="1.80" height="8.20" fill="#2b2d88" />
<rect x="378.64" y="67.72" width="1.80" height="8.20" fill="#2b2d88" />
<rect x="381.43" y="67.72" width="1.80" height="8.20" fill="#2b2d88" />
<rect x="384.22" y="67.72" width="1.80" height="8.20" fill="#2b2d88" />
<rect x="387.01" y="67.72" width="1.80" height="8.20" fill="#cdcdcd" />
<rect x="387.01" y="70.12" width="1.80" height="3.40" fill="#606068" />
<rect x="389.80" y="67.72" width="1.80" height="8.20" fill="#cdcdcd" />
<rect x="389.80" y="70.12" width="1.80" height="3.40" fill="#606068" />
<rect x="392.59" y="67.72" width="1.80" height="8.20" fill="#cdcdcd" />
<rect x="392.59" y="70.12" width="1.80" height="3.40" fill="#4ca01e" />
<rect x="395.38" y="67.72" width="1.80" height="8.20" fill="#cdcdcd" />
<rect x="395.38" y="70.12" width="1.80" height="3.40" fill="#4ca01e" />
<rect x="398.17" y="67.72" width="1.80" height="8.20" fill="#cdcdcd" />
<rect x="398.17" y="70.12" width="1.80" height="3.40" fill="#4ca01e" />
<rect x="400.96" y="67.72" width="1.80" height="8.20" fill="#cdcdcd" />
<rect x="400.96" y="70.12" width="1.80" height="3.40" fill="#4ca01e" />
<rect x="403.75" y="67.72" width="1.80" height="8.20" fill="#cdcdcd" />
<rect x="403.75" y="70.12" width="1.80" height="3.40" fill="#4ca01e" />
<rect x="406.54" y="67.72" width="1.80" height="8.20" fill="#cdcdcd" />
<rect x="406.54" y="70.12" width="1.80" height="3.40" fill="#4ca01e" />
<rect x="409.33" y="67.72" width="1.80" height="8.20" fill="#cdcdcd" />
<rect x="409.33" y="70.12" width="1.80" height="3.40" fill="#4ca01e" />
<rect x="412.12" y="67.72" width="1.80" height="8.20" fill="#cdcdcd" />
<rect x="412.12" y="70.12" width="1.80" height="3.40" fill="#4ca01e" />
<rect x="414.91" y="67.72" width="1.80" height="8.20" fill="#cdcdcd" />
<rect x="414.91" y="70.12" width="1.80" height="3.40" fill="#4ca01e" />
<rect x="417.70" y="67.72" width="1.80" height="8.20" fill="#cdcdcd" />
<rect x="417.70" y="70.12" width="1.80" height="3.40" fill="#4ca01e" />
<rect x="420.49" y="67.72" width="1.80" height="8.20" fill="#cdcdcd" />
<rect x="420.49" y="70.12" width="1.80" height="3.40" fill="#4ca01e" />
<rect x="423.28" y="67.72" width="1.80" height="8.20" fill="#cdcdcd" />
<rect x="423.28" y="70.12" width="1.80" height="3.40" fill="#4ca01e" />
<rect x="426.07" y="67.72" width="1.80" height="8.20" fill="#cdcdcd" />
<rect x="426.07" y="70.12" width="1.80" height="3.40" fill="#4ca01e" />
<rect x="428.86" y="67.72" width="1.80" height="8.20" fill="#cdcdcd" />
<rect x="431.65" y="67.72" width="1.80" height="8.20" fill="#cdcdcd" />
<rect x="434.44" y="67.72" width="1.80" height="8.20" fill="#cdcdcd" />
<rect x="437.23" y="67.72" width="1.80" height="8.20" fill="#cdcdcd" />
<rect x="440.02" y="67.72" width="1.80" height="8.20" fill="#cdcdcd" />
<rect x="442.81" y="67.72" width="1.80" height="8.20" fill="#cdcdcd" />
<rect x="445.60" y="67.72" width="1.80" height="8.20" fill="#cdcdcd" />
<rect x="448.39" y="67.72" width="1.80" height="8.20" fill="#cdcdcd" />
<rect x="451.18" y="67.72" width="1.80" height="8.20" fill="#cdcdcd" />
<rect x="453.97" y="67.72" width="1.80" height="8.20" fill="#cdcdcd" />
<rect x="456.76" y="67.72" width="1.80" height="8.20" fill="#cdcdcd" />
<rect x="459.55" y="67.72" width="1.80" height="8.20" fill="#cdcdcd" />
<rect x="462.34" y="67.72" width="1.80" height="8.20" fill="#cdcdcd" />
<rect x="465.13" y="67.72" width="1.80" height="8.20" fill="#cdcdcd" />
<rect x="467.92" y="67.72" width="1.80" height="8.20" fill="#cdcdcd" />
<rect x="470.71" y="67.72" width="1.80" height="8.20" fill="#cdcdcd" />
<rect x="473.50" y="67.72" width="1.80" height="8.20" fill="#cdcdcd" />
<rect x="476.29" y="67.72" width="1.80" height="8.20" fill="#cdcdcd" />
<rect x="479.08" y="67.72" width="1.80" height="8.20" fill="#cdcdcd" />
<rect x="481.87" y="67.72" width="1.80" height="8.20" fill="#cdcdcd" />
<rect x="484.66" y="67.72" width="1.80" height="8.20" fill="#cdcdcd" />
<rect x="487.45" y="67.72" width="1.80" height="8.20" fill="#cdcdcd" />
<rect x="490.24" y="67.72" width="1.80" height="8.20" fill="#cdcdcd" />
<rect x="493.03" y="67.72" width="1.80" height="8.20" fill="#cdcdcd" />
<rect x="495.82" y="67.72" width="1.80" height="8.20" fill="#cdcdcd" />
<rect x="498.61" y="67.72" width="1.80" height="8.20" fill="#cdcdcd" />
<rect x="501.40" y="67.72" width="1.80" height="8.20" fill="#cdcdcd" />
<rect x="504.19" y="67.72" width="1.80" height="8.20" fill="#cdcdcd" />
<rect x="506.98" y="67.72" width="1.80" height="8.20" fill="#cdcdcd" />
<rect x="509.77" y="67.72" width="1.80" height="8.20" fill="#cdcdcd" />
<rect x="512.56" y="67.72" width="1.80" height="8.20" fill="#cdcdcd" />
<rect x="515.35" y="67.72" width="1.80" height="8.20" fill="#cdcdcd" />
<rect x="518.14" y="67.72" width="1.80" height="8.20" fill="#cdcdcd" />
<rect x="520.93" y="67.72" width="1.80" height="8.20" fill="#cdcdcd" />
<rect x="523.72" y="67.72" width="1.80" height="8.20" fill="#cdcdcd" />
<rect x="526.51" y="67.72" width="1.80" height="8.20" fill="#cdcdcd" />
<rect x="529.30" y="67.72" width="1.80" height="8.20" fill="#cdcdcd" />
<rect x="532.09" y="67.72" width="1.80" height="8.20" fill="#cdcdcd" />
<rect x="534.88" y="67.72" width="1.80" height="8.20" fill="#cdcdcd" />
<rect x="537.67" y="67.72" width="1.80" height="8.20" fill="#cdcdcd" />
<rect x="540.46" y="67.72" width="1.80" height="8.20" fill="#cdcdcd" />
<rect x="543.25" y="67.72" width="1.80" height="8.20" fill="#cdcdcd" />
<text x="7.00" y="85.15" font-size="5.7" text-anchor="start" fill="#2a2a2a" stroke="#2a2a2a" stroke-width="0.12">ANGPTL6</text>
<text x="40.30" y="84.95" font-size="4.45" text-anchor="start" fill="#333" stroke="#333" stroke-width="0.08">0.9%*</text>
<rect x="55.00" y="79.15" width="1.80" height="8.20" fill="#cdcdcd" />
<rect x="57.79" y="79.15" width="1.80" height="8.20" fill="#cdcdcd" />
<rect x="60.58" y="79.15" width="1.80" height="8.20" fill="#cdcdcd" />
<rect x="63.37" y="79.15" width="1.80" height="8.20" fill="#cdcdcd" />
<rect x="66.16" y="79.15" width="1.80" height="8.20" fill="#cdcdcd" />
<rect x="68.95" y="79.15" width="1.80" height="8.20" fill="#cdcdcd" />
<rect x="71.74" y="79.15" width="1.80" height="8.20" fill="#cdcdcd" />
<rect x="74.53" y="79.15" width="1.80" height="8.20" fill="#cdcdcd" />
<rect x="77.32" y="79.15" width="1.80" height="8.20" fill="#cdcdcd" />
<rect x="80.11" y="79.15" width="1.80" height="8.20" fill="#cdcdcd" />
<rect x="82.90" y="79.15" width="1.80" height="8.20" fill="#cdcdcd" />
<rect x="85.69" y="79.15" width="1.80" height="8.20" fill="#cdcdcd" />
<rect x="88.48" y="79.15" width="1.80" height="8.20" fill="#cdcdcd" />
<rect x="91.27" y="79.15" width="1.80" height="8.20" fill="#cdcdcd" />
<rect x="94.06" y="79.15" width="1.80" height="8.20" fill="#cdcdcd" />
<rect x="96.85" y="79.15" width="1.80" height="8.20" fill="#cdcdcd" />
<rect x="96.85" y="81.55" width="1.80" height="3.40" fill="#4ca01e" />
<rect x="99.64" y="79.15" width="1.80" height="8.20" fill="#cdcdcd" />
<rect x="102.43" y="79.15" width="1.80" height="8.20" fill="#cdcdcd" />
<rect x="105.22" y="79.15" width="1.80" height="8.20" fill="#cdcdcd" />
<rect x="108.01" y="79.15" width="1.80" height="8.20" fill="#cdcdcd" />
<rect x="110.80" y="79.15" width="1.80" height="8.20" fill="#ee2222" />
<rect x="113.59" y="79.15" width="1.80" height="8.20" fill="#cdcdcd" />
<rect x="116.38" y="79.15" width="1.80" height="8.20" fill="#cdcdcd" />
<rect x="119.17" y="79.15" width="1.80" height="8.20" fill="#cdcdcd" />
<rect x="121.96" y="79.15" width="1.80" height="8.20" fill="#cdcdcd" />
<rect x="121.96" y="81.55" width="1.80" height="3.40" fill="#4ca01e" />
<rect x="124.75" y="79.15" width="1.80" height="8.20" fill="#cdcdcd" />
<rect x="127.54" y="79.15" width="1.80" height="8.20" fill="#cdcdcd" />
<rect x="130.33" y="79.15" width="1.80" height="8.20" fill="#cdcdcd" />
<rect x="133.12" y="79.15" width="1.80" height="8.20" fill="#cdcdcd" />
<rect x="135.91" y="79.15" width="1.80" height="8.20" fill="#cdcdcd" />
<rect x="138.70" y="79.15" width="1.80" height="8.20" fill="#cdcdcd" />
<rect x="141.49" y="79.15" width="1.80" height="8.20" fill="#cdcdcd" />
<rect x="144.28" y="79.15" width="1.80" height="8.20" fill="#cdcdcd" />
<rect x="147.07" y="79.15" width="1.80" height="8.20" fill="#cdcdcd" />
<rect x="149.86" y="79.15" width="1.80" height="8.20" fill="#cdcdcd" />
<rect x="152.65" y="79.15" width="1.80" height="8.20" fill="#cdcdcd" />
<rect x="155.44" y="79.15" width="1.80" height="8.20" fill="#cdcdcd" />
<rect x="158.23" y="79.15" width="1.80" height="8.20" fill="#cdcdcd" />
<rect x="161.02" y="79.15" width="1.80" height="8.20" fill="#cdcdcd" />
<rect x="163.81" y="79.15" width="1.80" height="8.20" fill="#cdcdcd" />
<rect x="166.60" y="79.15" width="1.80" height="8.20" fill="#cdcdcd" />
<rect x="169.39" y="79.15" width="1.80" height="8.20" fill="#cdcdcd" />
<rect x="172.18" y="79.15" width="1.80" height="8.20" fill="#cdcdcd" />
<rect x="174.97" y="79.15" width="1.80" height="8.20" fill="#cdcdcd" />
<rect x="177.76" y="79.15" width="1.80" height="8.20" fill="#cdcdcd" />
<rect x="180.55" y="79.15" width="1.80" height="8.20" fill="#cdcdcd" />
<rect x="183.34" y="79.15" width="1.80" height="8.20" fill="#cdcdcd" />
<rect x="183.34" y="81.55" width="1.80" height="3.40" fill="#4ca01e" />
<rect x="186.13" y="79.15" width="1.80" height="8.20" fill="#cdcdcd" />
<rect x="188.92" y="79.15" width="1.80" height="8.20" fill="#cdcdcd" />
<rect x="191.71" y="79.15" width="1.80" height="8.20" fill="#cdcdcd" />
<rect x="194.50" y="79.15" width="1.80" height="8.20" fill="#cdcdcd" />
<rect x="197.29" y="79.15" width="1.80" height="8.20" fill="#cdcdcd" />
<rect x="200.08" y="79.15" width="1.80" height="8.20" fill="#cdcdcd" />
<rect x="202.87" y="79.15" width="1.80" height="8.20" fill="#cdcdcd" />
<rect x="205.66" y="79.15" width="1.80" height="8.20" fill="#cdcdcd" />
<rect x="208.45" y="79.15" width="1.80" height="8.20" fill="#cdcdcd" />
<rect x="211.24" y="79.15" width="1.80" height="8.20" fill="#cdcdcd" />
<rect x="214.03" y="79.15" width="1.80" height="8.20" fill="#cdcdcd" />
<rect x="216.82" y="79.15" width="1.80" height="8.20" fill="#cdcdcd" />
<rect x="219.61" y="79.15" width="1.80" height="8.20" fill="#cdcdcd" />
<rect x="222.40" y="79.15" width="1.80" height="8.20" fill="#cdcdcd" />
<rect x="225.19" y="79.15" width="1.80" height="8.20" fill="#cdcdcd" />
<rect x="227.98" y="79.15" width="1.80" height="8.20" fill="#cdcdcd" />
<rect x="230.77" y="79.15" width="1.80" height="8.20" fill="#cdcdcd" />
<rect x="233.56" y="79.15" width="1.80" height="8.20" fill="#cdcdcd" />
<rect x="236.35" y="79.15" width="1.80" height="8.20" fill="#cdcdcd" />
<rect x="239.14" y="79.15" width="1.80" height="8.20" fill="#cdcdcd" />
<rect x="241.93" y="79.15" width="1.80" height="8.20" fill="#cdcdcd" />
<rect x="244.72" y="79.15" width="1.80" height="8.20" fill="#cdcdcd" />
<rect x="247.51" y="79.15" width="1.80" height="8.20" fill="#cdcdcd" />
<rect x="250.30" y="79.15" width="1.80" height="8.20" fill="#cdcdcd" />
<rect x="253.09" y="79.15" width="1.80" height="8.20" fill="#cdcdcd" />
<rect x="255.88" y="79.15" width="1.80" height="8.20" fill="#cdcdcd" />
<rect x="258.67" y="79.15" width="1.80" height="8.20" fill="#cdcdcd" />
<rect x="261.46" y="79.15" width="1.80" height="8.20" fill="#cdcdcd" />
<rect x="264.25" y="79.15" width="1.80" height="8.20" fill="#cdcdcd" />
<rect x="267.04" y="79.15" width="1.80" height="8.20" fill="#cdcdcd" />
<rect x="269.83" y="79.15" width="1.80" height="8.20" fill="#cdcdcd" />
<rect x="272.62" y="79.15" width="1.80" height="8.20" fill="#cdcdcd" />
<rect x="275.41" y="79.15" width="1.80" height="8.20" fill="#cdcdcd" />
<rect x="278.20" y="79.15" width="1.80" height="8.20" fill="#cdcdcd" />
<rect x="280.99" y="79.15" width="1.80" height="8.20" fill="#cdcdcd" />
<rect x="283.78" y="79.15" width="1.80" height="8.20" fill="#cdcdcd" />
<rect x="286.57" y="79.15" width="1.80" height="8.20" fill="#cdcdcd" />
<rect x="289.36" y="79.15" width="1.80" height="8.20" fill="#cdcdcd" />
<rect x="292.15" y="79.15" width="1.80" height="8.20" fill="#cdcdcd" />
<rect x="294.94" y="79.15" width="1.80" height="8.20" fill="#cdcdcd" />
<rect x="297.73" y="79.15" width="1.80" height="8.20" fill="#cdcdcd" />
<rect x="300.52" y="79.15" width="1.80" height="8.20" fill="#cdcdcd" />
<rect x="303.31" y="79.15" width="1.80" height="8.20" fill="#cdcdcd" />
<rect x="306.10" y="79.15" width="1.80" height="8.20" fill="#cdcdcd" />
<rect x="308.89" y="79.15" width="1.80" height="8.20" fill="#cdcdcd" />
<rect x="311.68" y="79.15" width="1.80" height="8.20" fill="#cdcdcd" />
<rect x="314.47" y="79.15" width="1.80" height="8.20" fill="#ee2222" />
<rect x="317.26" y="79.15" width="1.80" height="8.20" fill="#2b2d88" />
<rect x="317.26" y="81.55" width="1.80" height="3.40" fill="#4ca01e" />
<rect x="320.05" y="79.15" width="1.80" height="8.20" fill="#2b2d88" />
<rect x="322.84" y="79.15" width="1.80" height="8.20" fill="#2b2d88" />
<rect x="325.63" y="79.15" width="1.80" height="8.20" fill="#2b2d88" />
<rect x="328.42" y="79.15" width="1.80" height="8.20" fill="#2b2d88" />
<rect x="331.21" y="79.15" width="1.80" height="8.20" fill="#2b2d88" />
<rect x="334.00" y="79.15" width="1.80" height="8.20" fill="#2b2d88" />
<rect x="336.79" y="79.15" width="1.80" height="8.20" fill="#2b2d88" />
<rect x="339.58" y="79.15" width="1.80" height="8.20" fill="#2b2d88" />
<rect x="342.37" y="79.15" width="1.80" height="8.20" fill="#cdcdcd" />
<rect x="345.16" y="79.15" width="1.80" height="8.20" fill="#cdcdcd" />
<rect x="347.95" y="79.15" width="1.80" height="8.20" fill="#cdcdcd" />
<rect x="350.74" y="79.15" width="1.80" height="8.20" fill="#cdcdcd" />
<rect x="353.53" y="79.15" width="1.80" height="8.20" fill="#cdcdcd" />
<rect x="356.32" y="79.15" width="1.80" height="8.20" fill="#cdcdcd" />
<rect x="359.11" y="79.15" width="1.80" height="8.20" fill="#cdcdcd" />
<rect x="361.90" y="79.15" width="1.80" height="8.20" fill="#cdcdcd" />
<rect x="364.69" y="79.15" width="1.80" height="8.20" fill="#cdcdcd" />
<rect x="367.48" y="79.15" width="1.80" height="8.20" fill="#cdcdcd" />
<rect x="370.27" y="79.15" width="1.80" height="8.20" fill="#cdcdcd" />
<rect x="373.06" y="79.15" width="1.80" height="8.20" fill="#cdcdcd" />
<rect x="375.85" y="79.15" width="1.80" height="8.20" fill="#cdcdcd" />
<rect x="378.64" y="79.15" width="1.80" height="8.20" fill="#cdcdcd" />
<rect x="381.43" y="79.15" width="1.80" height="8.20" fill="#cdcdcd" />
<rect x="384.22" y="79.15" width="1.80" height="8.20" fill="#cdcdcd" />
<rect x="387.01" y="79.15" width="1.80" height="8.20" fill="#cdcdcd" />
<rect x="389.80" y="79.15" width="1.80" height="8.20" fill="#cdcdcd" />
<rect x="392.59" y="79.15" width="1.80" height="8.20" fill="#cdcdcd" />
<rect x="395.38" y="79.15" width="1.80" height="8.20" fill="#cdcdcd" />
<rect x="398.17" y="79.15" width="1.80" height="8.20" fill="#cdcdcd" />
<rect x="400.96" y="79.15" width="1.80" height="8.20" fill="#cdcdcd" />
<rect x="403.75" y="79.15" width="1.80" height="8.20" fill="#cdcdcd" />
<rect x="406.54" y="79.15" width="1.80" height="8.20" fill="#cdcdcd" />
<rect x="409.33" y="79.15" width="1.80" height="8.20" fill="#cdcdcd" />
<rect x="412.12" y="79.15" width="1.80" height="8.20" fill="#cdcdcd" />
<rect x="414.91" y="79.15" width="1.80" height="8.20" fill="#cdcdcd" />
<rect x="417.70" y="79.15" width="1.80" height="8.20" fill="#cdcdcd" />
<rect x="420.49" y="79.15" width="1.80" height="8.20" fill="#cdcdcd" />
<rect x="423.28" y="79.15" width="1.80" height="8.20" fill="#cdcdcd" />
<rect x="426.07" y="79.15" width="1.80" height="8.20" fill="#cdcdcd" />
<rect x="428.86" y="79.15" width="1.80" height="8.20" fill="#ee2222" />
<rect x="431.65" y="79.15" width="1.80" height="8.20" fill="#2b2d88" />
<rect x="434.44" y="79.15" width="1.80" height="8.20" fill="#cdcdcd" />
<rect x="434.44" y="81.55" width="1.80" height="3.40" fill="#606068" />
<rect x="437.23" y="79.15" width="1.80" height="8.20" fill="#cdcdcd" />
<rect x="437.23" y="81.55" width="1.80" height="3.40" fill="#606068" />
<rect x="440.02" y="79.15" width="1.80" height="8.20" fill="#cdcdcd" />
<rect x="440.02" y="81.55" width="1.80" height="3.40" fill="#606068" />
<rect x="442.81" y="79.15" width="1.80" height="8.20" fill="#cdcdcd" />
<rect x="442.81" y="81.55" width="1.80" height="3.40" fill="#606068" />
<rect x="445.60" y="79.15" width="1.80" height="8.20" fill="#cdcdcd" />
<rect x="445.60" y="81.55" width="1.80" height="3.40" fill="#606068" />
<rect x="448.39" y="79.15" width="1.80" height="8.20" fill="#cdcdcd" />
<rect x="448.39" y="81.55" width="1.80" height="3.40" fill="#f0a060" />
<rect x="451.18" y="79.15" width="1.80" height="8.20" fill="#cdcdcd" />
<rect x="451.18" y="81.55" width="1.80" height="3.40" fill="#4ca01e" />
<rect x="453.97" y="79.15" width="1.80" height="8.20" fill="#cdcdcd" />
<rect x="453.97" y="81.55" width="1.80" height="3.40" fill="#4ca01e" />
<rect x="456.76" y="79.15" width="1.80" height="8.20" fill="#cdcdcd" />
<rect x="456.76" y="81.55" width="1.80" height="3.40" fill="#4ca01e" />
<rect x="459.55" y="79.15" width="1.80" height="8.20" fill="#cdcdcd" />
<rect x="459.55" y="81.55" width="1.80" height="3.40" fill="#4ca01e" />
<rect x="462.34" y="79.15" width="1.80" height="8.20" fill="#cdcdcd" />
<rect x="462.34" y="81.55" width="1.80" height="3.40" fill="#4ca01e" />
<rect x="465.13" y="79.15" width="1.80" height="8.20" fill="#cdcdcd" />
<rect x="465.13" y="81.55" width="1.80" height="3.40" fill="#4ca01e" />
<rect x="467.92" y="79.15" width="1.80" height="8.20" fill="#cdcdcd" />
<rect x="467.92" y="81.55" width="1.80" height="3.40" fill="#4ca01e" />
<rect x="470.71" y="79.15" width="1.80" height="8.20" fill="#cdcdcd" />
<rect x="470.71" y="81.55" width="1.80" height="3.40" fill="#4ca01e" />
<rect x="473.50" y="79.15" width="1.80" height="8.20" fill="#cdcdcd" />
<rect x="473.50" y="81.55" width="1.80" height="3.40" fill="#4ca01e" />
<rect x="476.29" y="79.15" width="1.80" height="8.20" fill="#cdcdcd" />
<rect x="476.29" y="81.55" width="1.80" height="3.40" fill="#4ca01e" />
<rect x="479.08" y="79.15" width="1.80" height="8.20" fill="#cdcdcd" />
<rect x="481.87" y="79.15" width="1.80" height="8.20" fill="#cdcdcd" />
<rect x="484.66" y="79.15" width="1.80" height="8.20" fill="#cdcdcd" />
<rect x="487.45" y="79.15" width="1.80" height="8.20" fill="#cdcdcd" />
<rect x="490.24" y="79.15" width="1.80" height="8.20" fill="#cdcdcd" />
<rect x="493.03" y="79.15" width="1.80" height="8.20" fill="#cdcdcd" />
<rect x="495.82" y="79.15" width="1.80" height="8.20" fill="#cdcdcd" />
<rect x="498.61" y="79.15" width="1.80" height="8.20" fill="#cdcdcd" />
<rect x="501.40" y="79.15" width="1.80" height="8.20" fill="#cdcdcd" />
<rect x="504.19" y="79.15" width="1.80" height="8.20" fill="#cdcdcd" />
<rect x="506.98" y="79.15" width="1.80" height="8.20" fill="#cdcdcd" />
<rect x="509.77" y="79.15" width="1.80" height="8.20" fill="#cdcdcd" />
<rect x="512.56" y="79.15" width="1.80" height="8.20" fill="#cdcdcd" />
<rect x="515.35" y="79.15" width="1.80" height="8.20" fill="#cdcdcd" />
<rect x="518.14" y="79.15" width="1.80" height="8.20" fill="#cdcdcd" />
<rect x="520.93" y="79.15" width="1.80" height="8.20" fill="#cdcdcd" />
<rect x="523.72" y="79.15" width="1.80" height="8.20" fill="#cdcdcd" />
<rect x="526.51" y="79.15" width="1.80" height="8.20" fill="#cdcdcd" />
<rect x="529.30" y="79.15" width="1.80" height="8.20" fill="#cdcdcd" />
<rect x="532.09" y="79.15" width="1.80" height="8.20" fill="#cdcdcd" />
<rect x="534.88" y="79.15" width="1.80" height="8.20" fill="#cdcdcd" />
<rect x="537.67" y="79.15" width="1.80" height="8.20" fill="#cdcdcd" />
<rect x="540.46" y="79.15" width="1.80" height="8.20" fill="#cdcdcd" />
<rect x="543.25" y="79.15" width="1.80" height="8.20" fill="#cdcdcd" />
<text x="7.00" y="96.58" font-size="5.7" text-anchor="start" fill="#2a2a2a" stroke="#2a2a2a" stroke-width="0.12">ANGPTL7</text>
<text x="40.30" y="96.38" font-size="4.45" text-anchor="start" fill="#333" stroke="#333" stroke-width="0.08">0.8%*</text>
<rect x="55.00" y="90.58" width="1.80" height="8.20" fill="#cdcdcd" />
<rect x="57.79" y="90.58" width="1.80" height="8.20" fill="#cdcdcd" />
<rect x="60.58" y="90.58" width="1.80" height="8.20" fill="#cdcdcd" />
<rect x="63.37" y="90.58" width="1.80" height="8.20" fill="#cdcdcd" />
<rect x="66.16" y="90.58" width="1.80" height="8.20" fill="#cdcdcd" />
<rect x="68.95" y="90.58" width="1.80" height="8.20" fill="#cdcdcd" />
<rect x="71.74" y="90.58" width="1.80" height="8.20" fill="#cdcdcd" />
<rect x="74.53" y="90.58" width="1.80" height="8.20" fill="#cdcdcd" />
<rect x="77.32" y="90.58" width="1.80" height="8.20" fill="#cdcdcd" />
<rect x="80.11" y="90.58" width="1.80" height="8.20" fill="#cdcdcd" />
<rect x="82.90" y="90.58" width="1.80" height="8.20" fill="#cdcdcd" />
<rect x="85.69" y="90.58" width="1.80" height="8.20" fill="#cdcdcd" />
<rect x="85.69" y="92.98" width="1.80" height="3.40" fill="#4ca01e" />
<rect x="88.48" y="90.58" width="1.80" height="8.20" fill="#cdcdcd" />
<rect x="91.27" y="90.58" width="1.80" height="8.20" fill="#cdcdcd" />
<rect x="94.06" y="90.58" width="1.80" height="8.20" fill="#cdcdcd" />
<rect x="96.85" y="90.58" width="1.80" height="8.20" fill="#cdcdcd" />
<rect x="99.64" y="90.58" width="1.80" height="8.20" fill="#cdcdcd" />
<rect x="102.43" y="90.58" width="1.80" height="8.20" fill="#cdcdcd" />
<rect x="105.22" y="90.58" width="1.80" height="8.20" fill="#cdcdcd" />
<rect x="108.01" y="90.58" width="1.80" height="8.20" fill="#cdcdcd" />
<rect x="110.80" y="90.58" width="1.80" height="8.20" fill="#cdcdcd" />
<rect x="113.59" y="90.58" width="1.80" height="8.20" fill="#cdcdcd" />
<rect x="116.38" y="90.58" width="1.80" height="8.20" fill="#cdcdcd" />
<rect x="119.17" y="90.58" width="1.80" height="8.20" fill="#cdcdcd" />
<rect x="121.96" y="90.58" width="1.80" height="8.20" fill="#cdcdcd" />
<rect x="124.75" y="90.58" width="1.80" height="8.20" fill="#cdcdcd" />
<rect x="127.54" y="90.58" width="1.80" height="8.20" fill="#cdcdcd" />
<rect x="130.33" y="90.58" width="1.80" height="8.20" fill="#cdcdcd" />
<rect x="133.12" y="90.58" width="1.80" height="8.20" fill="#cdcdcd" />
<rect x="135.91" y="90.58" width="1.80" height="8.20" fill="#cdcdcd" />
<rect x="138.70" y="90.58" width="1.80" height="8.20" fill="#cdcdcd" />
<rect x="141.49" y="90.58" width="1.80" height="8.20" fill="#cdcdcd" />
<rect x="144.28" y="90.58" width="1.80" height="8.20" fill="#cdcdcd" />
<rect x="147.07" y="90.58" width="1.80" height="8.20" fill="#cdcdcd" />
<rect x="149.86" y="90.58" width="1.80" height="8.20" fill="#cdcdcd" />
<rect x="152.65" y="90.58" width="1.80" height="8.20" fill="#cdcdcd" />
<rect x="155.44" y="90.58" width="1.80" height="8.20" fill="#cdcdcd" />
<rect x="158.23" y="90.58" width="1.80" height="8.20" fill="#cdcdcd" />
<rect x="161.02" y="90.58" width="1.80" height="8.20" fill="#cdcdcd" />
<rect x="163.81" y="90.58" width="1.80" height="8.20" fill="#cdcdcd" />
<rect x="166.60" y="90.58" width="1.80" height="8.20" fill="#cdcdcd" />
<rect x="169.39" y="90.58" width="1.80" height="8.20" fill="#cdcdcd" />
<rect x="172.18" y="90.58" width="1.80" height="8.20" fill="#cdcdcd" />
<rect x="174.97" y="90.58" width="1.80" height="8.20" fill="#cdcdcd" />
<rect x="177.76" y="90.58" width="1.80" height="8.20" fill="#cdcdcd" />
<rect x="180.55" y="90.58" width="1.80" height="8.20" fill="#cdcdcd" />
<rect x="183.34" y="90.58" width="1.80" height="8.20" fill="#cdcdcd" />
<rect x="186.13" y="90.58" width="1.80" height="8.20" fill="#cdcdcd" />
<rect x="188.92" y="90.58" width="1.80" height="8.20" fill="#cdcdcd" />
<rect x="191.71" y="90.58" width="1.80" height="8.20" fill="#cdcdcd" />
<rect x="194.50" y="90.58" width="1.80" height="8.20" fill="#cdcdcd" />
<rect x="197.29" y="90.58" width="1.80" height="8.20" fill="#cdcdcd" />
<rect x="200.08" y="90.58" width="1.80" height="8.20" fill="#cdcdcd" />
<rect x="202.87" y="90.58" width="1.80" height="8.20" fill="#cdcdcd" />
<rect x="202.87" y="92.98" width="1.80" height="3.40" fill="#4ca01e" />
<rect x="205.66" y="90.58" width="1.80" height="8.20" fill="#cdcdcd" />
<rect x="205.66" y="92.98" width="1.80" height="3.40" fill="#4ca01e" />
<rect x="208.45" y="90.58" width="1.80" height="8.20" fill="#cdcdcd" />
<rect x="211.24" y="90.58" width="1.80" height="8.20" fill="#cdcdcd" />
<rect x="214.03" y="90.58" width="1.80" height="8.20" fill="#cdcdcd" />
<rect x="216.82" y="90.58" width="1.80" height="8.20" fill="#cdcdcd" />
<rect x="219.61" y="90.58" width="1.80" height="8.20" fill="#cdcdcd" />
<rect x="222.40" y="90.58" width="1.80" height="8.20" fill="#cdcdcd" />
<rect x="225.19" y="90.58" width="1.80" height="8.20" fill="#cdcdcd" />
<rect x="227.98" y="90.58" width="1.80" height="8.20" fill="#cdcdcd" />
<rect x="230.77" y="90.58" width="1.80" height="8.20" fill="#cdcdcd" />
<rect x="233.56" y="90.58" width="1.80" height="8.20" fill="#cdcdcd" />
<rect x="236.35" y="90.58" width="1.80" height="8.20" fill="#cdcdcd" />
<rect x="239.14" y="90.58" width="1.80" height="8.20" fill="#cdcdcd" />
<rect x="241.93" y="90.58" width="1.80" height="8.20" fill="#cdcdcd" />
<rect x="244.72" y="90.58" width="1.80" height="8.20" fill="#cdcdcd" />
<rect x="247.51" y="90.58" width="1.80" height="8.20" fill="#cdcdcd" />
<rect x="250.30" y="90.58" width="1.80" height="8.20" fill="#cdcdcd" />
<rect x="253.09" y="90.58" width="1.80" height="8.20" fill="#cdcdcd" />
<rect x="255.88" y="90.58" width="1.80" height="8.20" fill="#cdcdcd" />
<rect x="258.67" y="90.58" width="1.80" height="8.20" fill="#cdcdcd" />
<rect x="261.46" y="90.58" width="1.80" height="8.20" fill="#cdcdcd" />
<rect x="264.25" y="90.58" width="1.80" height="8.20" fill="#cdcdcd" />
<rect x="267.04" y="90.58" width="1.80" height="8.20" fill="#cdcdcd" />
<rect x="269.83" y="90.58" width="1.80" height="8.20" fill="#cdcdcd" />
<rect x="272.62" y="90.58" width="1.80" height="8.20" fill="#cdcdcd" />
<rect x="275.41" y="90.58" width="1.80" height="8.20" fill="#cdcdcd" />
<rect x="278.20" y="90.58" width="1.80" height="8.20" fill="#cdcdcd" />
<rect x="280.99" y="90.58" width="1.80" height="8.20" fill="#cdcdcd" />
<rect x="283.78" y="90.58" width="1.80" height="8.20" fill="#2b2d88" />
<rect x="286.57" y="90.58" width="1.80" height="8.20" fill="#2b2d88" />
<rect x="289.36" y="90.58" width="1.80" height="8.20" fill="#cdcdcd" />
<rect x="292.15" y="90.58" width="1.80" height="8.20" fill="#cdcdcd" />
<rect x="294.94" y="90.58" width="1.80" height="8.20" fill="#cdcdcd" />
<rect x="297.73" y="90.58" width="1.80" height="8.20" fill="#cdcdcd" />
<rect x="300.52" y="90.58" width="1.80" height="8.20" fill="#cdcdcd" />
<rect x="303.31" y="90.58" width="1.80" height="8.20" fill="#cdcdcd" />
<rect x="306.10" y="90.58" width="1.80" height="8.20" fill="#cdcdcd" />
<rect x="308.89" y="90.58" width="1.80" height="8.20" fill="#cdcdcd" />
<rect x="311.68" y="90.58" width="1.80" height="8.20" fill="#cdcdcd" />
<rect x="314.47" y="90.58" width="1.80" height="8.20" fill="#cdcdcd" />
<rect x="317.26" y="90.58" width="1.80" height="8.20" fill="#cdcdcd" />
<rect x="320.05" y="90.58" width="1.80" height="8.20" fill="#2b2d88" />
<rect x="322.84" y="90.58" width="1.80" height="8.20" fill="#cdcdcd" />
<rect x="325.63" y="90.58" width="1.80" height="8.20" fill="#cdcdcd" />
<rect x="328.42" y="90.58" width="1.80" height="8.20" fill="#cdcdcd" />
<rect x="331.21" y="90.58" width="1.80" height="8.20" fill="#cdcdcd" />
<rect x="334.00" y="90.58" width="1.80" height="8.20" fill="#cdcdcd" />
<rect x="336.79" y="90.58" width="1.80" height="8.20" fill="#cdcdcd" />
<rect x="339.58" y="90.58" width="1.80" height="8.20" fill="#cdcdcd" />
<rect x="342.37" y="90.58" width="1.80" height="8.20" fill="#cdcdcd" />
<rect x="345.16" y="90.58" width="1.80" height="8.20" fill="#cdcdcd" />
<rect x="347.95" y="90.58" width="1.80" height="8.20" fill="#cdcdcd" />
<rect x="350.74" y="90.58" width="1.80" height="8.20" fill="#cdcdcd" />
<rect x="353.53" y="90.58" width="1.80" height="8.20" fill="#cdcdcd" />
<rect x="356.32" y="90.58" width="1.80" height="8.20" fill="#cdcdcd" />
<rect x="359.11" y="90.58" width="1.80" height="8.20" fill="#cdcdcd" />
<rect x="361.90" y="90.58" width="1.80" height="8.20" fill="#cdcdcd" />
<rect x="364.69" y="90.58" width="1.80" height="8.20" fill="#cdcdcd" />
<rect x="367.48" y="90.58" width="1.80" height="8.20" fill="#cdcdcd" />
<rect x="370.27" y="90.58" width="1.80" height="8.20" fill="#cdcdcd" />
<rect x="373.06" y="90.58" width="1.80" height="8.20" fill="#cdcdcd" />
<rect x="375.85" y="90.58" width="1.80" height="8.20" fill="#cdcdcd" />
<rect x="378.64" y="90.58" width="1.80" height="8.20" fill="#cdcdcd" />
<rect x="381.43" y="90.58" width="1.80" height="8.20" fill="#cdcdcd" />
<rect x="384.22" y="90.58" width="1.80" height="8.20" fill="#cdcdcd" />
<rect x="387.01" y="90.58" width="1.80" height="8.20" fill="#cdcdcd" />
<rect x="387.01" y="92.98" width="1.80" height="3.40" fill="#4ca01e" />
<rect x="389.80" y="90.58" width="1.80" height="8.20" fill="#cdcdcd" />
<rect x="392.59" y="90.58" width="1.80" height="8.20" fill="#cdcdcd" />
<rect x="395.38" y="90.58" width="1.80" height="8.20" fill="#cdcdcd" />
<rect x="398.17" y="90.58" width="1.80" height="8.20" fill="#cdcdcd" />
<rect x="400.96" y="90.58" width="1.80" height="8.20" fill="#cdcdcd" />
<rect x="403.75" y="90.58" width="1.80" height="8.20" fill="#cdcdcd" />
<rect x="406.54" y="90.58" width="1.80" height="8.20" fill="#cdcdcd" />
<rect x="409.33" y="90.58" width="1.80" height="8.20" fill="#cdcdcd" />
<rect x="412.12" y="90.58" width="1.80" height="8.20" fill="#cdcdcd" />
<rect x="414.91" y="90.58" width="1.80" height="8.20" fill="#cdcdcd" />
<rect x="417.70" y="90.58" width="1.80" height="8.20" fill="#cdcdcd" />
<rect x="420.49" y="90.58" width="1.80" height="8.20" fill="#cdcdcd" />
<rect x="423.28" y="90.58" width="1.80" height="8.20" fill="#cdcdcd" />
<rect x="426.07" y="90.58" width="1.80" height="8.20" fill="#cdcdcd" />
<rect x="428.86" y="90.58" width="1.80" height="8.20" fill="#cdcdcd" />
<rect x="431.65" y="90.58" width="1.80" height="8.20" fill="#cdcdcd" />
<rect x="434.44" y="90.58" width="1.80" height="8.20" fill="#cdcdcd" />
<rect x="437.23" y="90.58" width="1.80" height="8.20" fill="#cdcdcd" />
<rect x="440.02" y="90.58" width="1.80" height="8.20" fill="#cdcdcd" />
<rect x="442.81" y="90.58" width="1.80" height="8.20" fill="#cdcdcd" />
<rect x="445.60" y="90.58" width="1.80" height="8.20" fill="#cdcdcd" />
<rect x="448.39" y="90.58" width="1.80" height="8.20" fill="#cdcdcd" />
<rect x="451.18" y="90.58" width="1.80" height="8.20" fill="#cdcdcd" />
<rect x="451.18" y="92.98" width="1.80" height="3.40" fill="#4ca01e" />
<rect x="453.97" y="90.58" width="1.80" height="8.20" fill="#cdcdcd" />
<rect x="456.76" y="90.58" width="1.80" height="8.20" fill="#cdcdcd" />
<rect x="459.55" y="90.58" width="1.80" height="8.20" fill="#cdcdcd" />
<rect x="462.34" y="90.58" width="1.80" height="8.20" fill="#cdcdcd" />
<rect x="465.13" y="90.58" width="1.80" height="8.20" fill="#cdcdcd" />
<rect x="467.92" y="90.58" width="1.80" height="8.20" fill="#cdcdcd" />
<rect x="470.71" y="90.58" width="1.80" height="8.20" fill="#cdcdcd" />
<rect x="473.50" y="90.58" width="1.80" height="8.20" fill="#cdcdcd" />
<rect x="476.29" y="90.58" width="1.80" height="8.20" fill="#cdcdcd" />
<rect x="479.08" y="90.58" width="1.80" height="8.20" fill="#2b2d88" />
<rect x="481.87" y="90.58" width="1.80" height="8.20" fill="#2b2d88" />
<rect x="484.66" y="90.58" width="1.80" height="8.20" fill="#2b2d88" />
<rect x="487.45" y="90.58" width="1.80" height="8.20" fill="#2b2d88" />
<rect x="490.24" y="90.58" width="1.80" height="8.20" fill="#2b2d88" />
<rect x="493.03" y="90.58" width="1.80" height="8.20" fill="#2b2d88" />
<rect x="495.82" y="90.58" width="1.80" height="8.20" fill="#2b2d88" />
<rect x="498.61" y="90.58" width="1.80" height="8.20" fill="#cdcdcd" />
<rect x="498.61" y="92.98" width="1.80" height="3.40" fill="#4ca01e" />
<rect x="501.40" y="90.58" width="1.80" height="8.20" fill="#cdcdcd" />
<rect x="501.40" y="92.98" width="1.80" height="3.40" fill="#4ca01e" />
<rect x="504.19" y="90.58" width="1.80" height="8.20" fill="#cdcdcd" />
<rect x="504.19" y="92.98" width="1.80" height="3.40" fill="#4ca01e" />
<rect x="506.98" y="90.58" width="1.80" height="8.20" fill="#cdcdcd" />
<rect x="506.98" y="92.98" width="1.80" height="3.40" fill="#4ca01e" />
<rect x="509.77" y="90.58" width="1.80" height="8.20" fill="#cdcdcd" />
<rect x="509.77" y="92.98" width="1.80" height="3.40" fill="#4ca01e" />
<rect x="512.56" y="90.58" width="1.80" height="8.20" fill="#cdcdcd" />
<rect x="512.56" y="92.98" width="1.80" height="3.40" fill="#4ca01e" />
<rect x="515.35" y="90.58" width="1.80" height="8.20" fill="#cdcdcd" />
<rect x="515.35" y="92.98" width="1.80" height="3.40" fill="#4ca01e" />
<rect x="518.14" y="90.58" width="1.80" height="8.20" fill="#cdcdcd" />
<rect x="518.14" y="92.98" width="1.80" height="3.40" fill="#4ca01e" />
<rect x="520.93" y="90.58" width="1.80" height="8.20" fill="#cdcdcd" />
<rect x="520.93" y="92.98" width="1.80" height="3.40" fill="#4ca01e" />
<rect x="523.72" y="90.58" width="1.80" height="8.20" fill="#cdcdcd" />
<rect x="523.72" y="92.98" width="1.80" height="3.40" fill="#4ca01e" />
<rect x="526.51" y="90.58" width="1.80" height="8.20" fill="#cdcdcd" />
<rect x="526.51" y="92.98" width="1.80" height="3.40" fill="#4ca01e" />
<rect x="529.30" y="90.58" width="1.80" height="8.20" fill="#cdcdcd" />
<rect x="529.30" y="92.98" width="1.80" height="3.40" fill="#4ca01e" />
<rect x="532.09" y="90.58" width="1.80" height="8.20" fill="#cdcdcd" />
<rect x="532.09" y="92.98" width="1.80" height="3.40" fill="#4ca01e" />
<rect x="534.88" y="90.58" width="1.80" height="8.20" fill="#cdcdcd" />
<rect x="534.88" y="92.98" width="1.80" height="3.40" fill="#4ca01e" />
<rect x="537.67" y="90.58" width="1.80" height="8.20" fill="#cdcdcd" />
<rect x="540.46" y="90.58" width="1.80" height="8.20" fill="#cdcdcd" />
<rect x="543.25" y="90.58" width="1.80" height="8.20" fill="#cdcdcd" />
<text x="6.80" y="109.90" font-size="3.9" text-anchor="start" fill="#555" style="font-family:'Liberation Sans',sans-serif">Genetic Alteration</text>
<rect x="79.10" y="105.60" width="1.80" height="6.20" fill="#cdcdcd" />
<rect x="79.10" y="107.70" width="1.80" height="2.10" fill="#a06a20" />
<text x="82.60" y="110.30" font-size="4.65" text-anchor="start" fill="#1a1a1a" >Inframe Mutation (unknown significance)</text>
<rect x="164.30" y="105.60" width="1.80" height="6.20" fill="#cdcdcd" />
<rect x="164.30" y="107.70" width="1.80" height="2.10" fill="#4ca01e" />
<text x="167.80" y="110.30" font-size="4.65" text-anchor="start" fill="#1a1a1a" >Missense Mutation (unknown significance)</text>
<rect x="252.50" y="105.60" width="1.80" height="6.20" fill="#cdcdcd" />
<rect x="252.50" y="107.70" width="1.80" height="2.10" fill="#f0a060" />
<text x="256.00" y="110.30" font-size="4.65" text-anchor="start" fill="#1a1a1a" >Splice Mutation (unknown significance)</text>
<rect x="334.70" y="105.60" width="1.80" height="6.20" fill="#cdcdcd" />
<rect x="334.70" y="107.70" width="1.80" height="2.10" fill="#606068" />
<text x="338.20" y="110.30" font-size="4.65" text-anchor="start" fill="#1a1a1a" >Truncating Mutation (unknown significance)</text>
<rect x="425.50" y="105.60" width="1.80" height="6.20" fill="#ee2222" />
<text x="429.00" y="110.30" font-size="4.65" text-anchor="start" fill="#1a1a1a" >Amplification</text>
<rect x="460.10" y="105.60" width="1.80" height="6.20" fill="#2b2d88" />
<text x="463.60" y="110.30" font-size="4.65" text-anchor="start" fill="#1a1a1a" >Deep Deletion</text>
<rect x="79.10" y="116.00" width="1.80" height="6.20" fill="#cdcdcd" />
<text x="82.60" y="120.70" font-size="4.65" text-anchor="start" fill="#1a1a1a" >No alterations</text>
<text x="119.50" y="120.70" font-size="4.65" text-anchor="start" fill="#1a1a1a" >Not profiled</text>
<text x="3.90" y="11.60" font-size="11.6" text-anchor="start" fill="#333" >A</text>
<circle cx="44" cy="184.2" r="2.4" fill="#3a7a35" stroke="#222" stroke-width="0.7"/>
<text x="54.60" y="187.90" font-size="11.6" text-anchor="start" fill="#3c3c3c" >Mutation</text>
<circle cx="44" cy="207.3" r="2.4" fill="#e83a3a" stroke="#222" stroke-width="0.7"/>
<text x="54.60" y="211.00" font-size="11.6" text-anchor="start" fill="#3c3c3c" >Amplification</text>
<circle cx="44" cy="228.2" r="2.4" fill="#3a4a9a" stroke="#222" stroke-width="0.7"/>
<text x="54.60" y="231.90" font-size="11.6" text-anchor="start" fill="#3c3c3c" >Deep Deletion</text>
<text x="138.50" y="158.70" font-size="11.7" text-anchor="start" fill="#222" >B</text>
<text x="194.40" y="144.10" font-size="11.45" text-anchor="middle" fill="#404040" >ANGPTL1</text>
<rect x="194.55" y="258.30" width="20.65" height="30" fill="none" stroke="#ececec" stroke-width="0.6"/>
<rect x="196.30" y="158.30" width="7.50" height="80.00" fill="#3d7a37" />
<rect x="196.30" y="238.30" width="7.50" height="16.70" fill="#ee3b36" />
<rect x="196.30" y="255.00" width="7.50" height="3.30" fill="#3b4a9c" />
<rect x="205.60" y="233.30" width="7.30" height="12.50" fill="#3d7a37" />
<rect x="205.60" y="245.80" width="7.30" height="10.10" fill="#ee3b36" />
<rect x="205.60" y="255.90" width="7.30" height="2.40" fill="#3b4a9c" />
<line x1="194.55" y1="151.40" x2="194.55" y2="258.90" stroke="#2a2a2a" stroke-width="1.25"/>
<line x1="193.95" y1="258.30" x2="214.70" y2="258.30" stroke="#2a2a2a" stroke-width="1.2"/>
<line x1="192.85" y1="159.20" x2="194.55" y2="159.20" stroke="#222" stroke-width="1.0"/>
<text x="192.85" y="161.00" font-size="5.2" text-anchor="end" fill="#222" >2%</text>
<line x1="192.85" y1="184.10" x2="194.55" y2="184.10" stroke="#222" stroke-width="1.0"/>
<text x="192.85" y="185.90" font-size="5.2" text-anchor="end" fill="#222" >1.5%</text>
<line x1="192.85" y1="208.70" x2="194.55" y2="208.70" stroke="#222" stroke-width="1.0"/>
<text x="192.85" y="210.50" font-size="5.2" text-anchor="end" fill="#222" >1%</text>
<line x1="192.85" y1="233.70" x2="194.55" y2="233.70" stroke="#222" stroke-width="1.0"/>
<text x="192.85" y="235.50" font-size="5.2" text-anchor="end" fill="#222" >0.5%</text>
<text x="173.75" y="201.80" font-size="5.75" text-anchor="middle" fill="#666" transform="rotate(-90 173.75 201.80)">Alteration Frequency</text>
<text x="192.55" y="266.60" font-size="5.8" text-anchor="end" fill="#1e1e1e" >Structural variant data</text>
<text x="191.05" y="275.50" font-size="5.8" text-anchor="end" fill="#1e1e1e" >Mutation data</text>
<text x="190.15" y="284.10" font-size="5.8" text-anchor="end" fill="#1e1e1e" >CNA data</text>
<path d="M199.35 263.20h1.4v0.9h0.9v1.4h-0.9v0.9h-1.4v-0.9h-0.9v-1.4h0.9z" fill="#111"/>
<rect x="207.55" y="264.20" width="3.40" height="1.20" fill="#111" />
<path d="M199.35 272.10h1.4v0.9h0.9v1.4h-0.9v0.9h-1.4v-0.9h-0.9v-1.4h0.9z" fill="#111"/>
<path d="M208.55 272.10h1.4v0.9h0.9v1.4h-0.9v0.9h-1.4v-0.9h-0.9v-1.4h0.9z" fill="#111"/>
<path d="M199.35 280.70h1.4v0.9h0.9v1.4h-0.9v0.9h-1.4v-0.9h-0.9v-1.4h0.9z" fill="#111"/>
<path d="M208.55 280.70h1.4v0.9h0.9v1.4h-0.9v0.9h-1.4v-0.9h-0.9v-1.4h0.9z" fill="#111"/>
<text x="197.25" y="291.70" font-size="5.9" text-anchor="start" fill="#1a1a1a" stroke="#1a1a1a" stroke-width="0.06" transform="rotate(50.5 197.25 291.70)">Colorectal Adenocarcinoma</text>
<text x="206.45" y="291.70" font-size="5.9" text-anchor="start" fill="#1a1a1a" stroke="#1a1a1a" stroke-width="0.06" transform="rotate(50.5 206.45 291.70)">Colorectal Cancer</text>
<text x="275.30" y="158.70" font-size="11.7" text-anchor="start" fill="#222" >C</text>
<text x="329.80" y="144.10" font-size="11.45" text-anchor="middle" fill="#404040" >ANGPTL2</text>
<rect x="332.60" y="257.40" width="20.60" height="30" fill="none" stroke="#ececec" stroke-width="0.6"/>
<rect x="334.00" y="158.30" width="7.80" height="79.70" fill="#3d7a37" />
<rect x="334.00" y="238.00" width="7.80" height="16.70" fill="#ee3b36" />
<rect x="334.00" y="254.70" width="7.80" height="2.70" fill="#3b4a9c" />
<rect x="343.60" y="233.00" width="7.30" height="12.20" fill="#3d7a37" />
<rect x="343.60" y="245.20" width="7.30" height="10.10" fill="#ee3b36" />
<rect x="343.60" y="255.30" width="7.30" height="2.10" fill="#3b4a9c" />
<line x1="332.60" y1="151.30" x2="332.60" y2="258.00" stroke="#2a2a2a" stroke-width="1.25"/>
<line x1="332.00" y1="257.40" x2="352.70" y2="257.40" stroke="#2a2a2a" stroke-width="1.2"/>
<line x1="330.90" y1="159.60" x2="332.60" y2="159.60" stroke="#222" stroke-width="1.0"/>
<text x="330.90" y="161.40" font-size="5.2" text-anchor="end" fill="#222" >2%</text>
<line x1="330.90" y1="184.10" x2="332.60" y2="184.10" stroke="#222" stroke-width="1.0"/>
<text x="330.90" y="185.90" font-size="5.2" text-anchor="end" fill="#222" >1.5%</text>
<line x1="330.90" y1="208.60" x2="332.60" y2="208.60" stroke="#222" stroke-width="1.0"/>
<text x="330.90" y="210.40" font-size="5.2" text-anchor="end" fill="#222" >1%</text>
<line x1="330.90" y1="233.20" x2="332.60" y2="233.20" stroke="#222" stroke-width="1.0"/>
<text x="330.90" y="235.00" font-size="5.2" text-anchor="end" fill="#222" >0.5%</text>
<text x="311.80" y="201.80" font-size="5.75" text-anchor="middle" fill="#666" transform="rotate(-90 311.80 201.80)">Alteration Frequency</text>
<text x="330.60" y="265.70" font-size="5.8" text-anchor="end" fill="#1e1e1e" >Structural variant data</text>
<text x="329.10" y="274.60" font-size="5.8" text-anchor="end" fill="#1e1e1e" >Mutation data</text>
<text x="328.20" y="283.20" font-size="5.8" text-anchor="end" fill="#1e1e1e" >CNA data</text>
<path d="M337.20 262.30h1.4v0.9h0.9v1.4h-0.9v0.9h-1.4v-0.9h-0.9v-1.4h0.9z" fill="#111"/>
<rect x="345.55" y="263.30" width="3.40" height="1.20" fill="#111" />
<path d="M337.20 271.20h1.4v0.9h0.9v1.4h-0.9v0.9h-1.4v-0.9h-0.9v-1.4h0.9z" fill="#111"/>
<path d="M346.55 271.20h1.4v0.9h0.9v1.4h-0.9v0.9h-1.4v-0.9h-0.9v-1.4h0.9z" fill="#111"/>
<path d="M337.20 279.80h1.4v0.9h0.9v1.4h-0.9v0.9h-1.4v-0.9h-0.9v-1.4h0.9z" fill="#111"/>
<path d="M346.55 279.80h1.4v0.9h0.9v1.4h-0.9v0.9h-1.4v-0.9h-0.9v-1.4h0.9z" fill="#111"/>
<text x="335.10" y="290.80" font-size="5.9" text-anchor="start" fill="#1a1a1a" stroke="#1a1a1a" stroke-width="0.06" transform="rotate(50.5 335.10 290.80)">Colorectal Adenocarcinoma</text>
<text x="344.45" y="290.80" font-size="5.9" text-anchor="start" fill="#1a1a1a" stroke="#1a1a1a" stroke-width="0.06" transform="rotate(50.5 344.45 290.80)">Colorectal Cancer</text>
<text x="407.80" y="158.70" font-size="11.7" text-anchor="start" fill="#222" >D</text>
<text x="463.50" y="144.60" font-size="11.45" text-anchor="middle" fill="#404040" >ANGPTL3</text>
<rect x="464.10" y="256.70" width="20.00" height="30" fill="none" stroke="#ececec" stroke-width="0.6"/>
<rect x="465.80" y="158.90" width="7.10" height="97.80" fill="#3d7a37" />
<rect x="474.70" y="191.50" width="7.20" height="24.60" fill="#3d7a37" />
<rect x="474.70" y="216.10" width="7.20" height="8.10" fill="#ee3b36" />
<rect x="474.70" y="224.20" width="7.20" height="32.50" fill="#3b4a9c" />
<line x1="464.10" y1="152.40" x2="464.10" y2="257.30" stroke="#2a2a2a" stroke-width="1.25"/>
<line x1="463.50" y1="256.70" x2="483.60" y2="256.70" stroke="#2a2a2a" stroke-width="1.2"/>
<line x1="462.40" y1="159.90" x2="464.10" y2="159.90" stroke="#222" stroke-width="1.0"/>
<text x="462.40" y="161.70" font-size="5.2" text-anchor="end" fill="#222" >0.6%</text>
<line x1="462.40" y1="176.30" x2="464.10" y2="176.30" stroke="#222" stroke-width="1.0"/>
<text x="462.40" y="178.10" font-size="5.2" text-anchor="end" fill="#222" >0.5%</text>
<line x1="462.40" y1="192.50" x2="464.10" y2="192.50" stroke="#222" stroke-width="1.0"/>
<text x="462.40" y="194.30" font-size="5.2" text-anchor="end" fill="#222" >0.4%</text>
<line x1="462.40" y1="208.60" x2="464.10" y2="208.60" stroke="#222" stroke-width="1.0"/>
<text x="462.40" y="210.40" font-size="5.2" text-anchor="end" fill="#222" >0.3%</text>
<line x1="462.40" y1="224.80" x2="464.10" y2="224.80" stroke="#222" stroke-width="1.0"/>
<text x="462.40" y="226.60" font-size="5.2" text-anchor="end" fill="#222" >0.2%</text>
<line x1="462.40" y1="240.90" x2="464.10" y2="240.90" stroke="#222" stroke-width="1.0"/>
<text x="462.40" y="242.70" font-size="5.2" text-anchor="end" fill="#222" >0.1%</text>
<text x="443.30" y="201.80" font-size="5.75" text-anchor="middle" fill="#666" transform="rotate(-90 443.30 201.80)">Alteration Frequency</text>
<text x="462.10" y="265.00" font-size="5.8" text-anchor="end" fill="#1e1e1e" >Structural variant data</text>
<text x="460.60" y="273.90" font-size="5.8" text-anchor="end" fill="#1e1e1e" >Mutation data</text>
<text x="459.70" y="282.50" font-size="5.8" text-anchor="end" fill="#1e1e1e" >CNA data</text>
<path d="M468.65 261.60h1.4v0.9h0.9v1.4h-0.9v0.9h-1.4v-0.9h-0.9v-1.4h0.9z" fill="#111"/>
<rect x="476.60" y="262.60" width="3.40" height="1.20" fill="#111" />
<path d="M468.65 270.50h1.4v0.9h0.9v1.4h-0.9v0.9h-1.4v-0.9h-0.9v-1.4h0.9z" fill="#111"/>
<path d="M477.60 270.50h1.4v0.9h0.9v1.4h-0.9v0.9h-1.4v-0.9h-0.9v-1.4h0.9z" fill="#111"/>
<path d="M468.65 279.10h1.4v0.9h0.9v1.4h-0.9v0.9h-1.4v-0.9h-0.9v-1.4h0.9z" fill="#111"/>
<path d="M477.60 279.10h1.4v0.9h0.9v1.4h-0.9v0.9h-1.4v-0.9h-0.9v-1.4h0.9z" fill="#111"/>
<text x="466.55" y="290.10" font-size="5.9" text-anchor="start" fill="#1a1a1a" stroke="#1a1a1a" stroke-width="0.06" transform="rotate(50.5 466.55 290.10)">Colorectal Adenocarcinoma</text>
<text x="475.50" y="290.10" font-size="5.9" text-anchor="start" fill="#1a1a1a" stroke="#1a1a1a" stroke-width="0.06" transform="rotate(50.5 475.50 290.10)">Colorectal Cancer</text>
<text x="6.30" y="351.40" font-size="11.7" text-anchor="start" fill="#222" >E</text>
<text x="63.20" y="337.40" font-size="11.85" text-anchor="middle" fill="#404040" >ANGPTL4</text>
<rect x="62.10" y="449.10" width="20.80" height="30" fill="none" stroke="#ececec" stroke-width="0.6"/>
<rect x="64.00" y="350.00" width="6.90" height="57.90" fill="#3d7a37" />
<rect x="64.00" y="407.90" width="6.90" height="16.70" fill="#ee3b36" />
<rect x="64.00" y="424.60" width="6.90" height="24.50" fill="#3b4a9c" />
<rect x="73.00" y="387.00" width="6.90" height="18.90" fill="#3d7a37" />
<rect x="73.00" y="405.90" width="6.90" height="43.20" fill="#3b4a9c" />
<line x1="62.10" y1="342.90" x2="62.10" y2="449.70" stroke="#2a2a2a" stroke-width="1.25"/>
<line x1="61.50" y1="449.10" x2="82.40" y2="449.10" stroke="#2a2a2a" stroke-width="1.2"/>
<line x1="60.40" y1="351.30" x2="62.10" y2="351.30" stroke="#222" stroke-width="1.0"/>
<text x="60.40" y="353.10" font-size="5.2" text-anchor="end" fill="#222" >0.8%</text>
<line x1="60.40" y1="375.80" x2="62.10" y2="375.80" stroke="#222" stroke-width="1.0"/>
<text x="60.40" y="377.60" font-size="5.2" text-anchor="end" fill="#222" >0.6%</text>
<line x1="60.40" y1="400.60" x2="62.10" y2="400.60" stroke="#222" stroke-width="1.0"/>
<text x="60.40" y="402.40" font-size="5.2" text-anchor="end" fill="#222" >0.4%</text>
<line x1="60.40" y1="424.80" x2="62.10" y2="424.80" stroke="#222" stroke-width="1.0"/>
<text x="60.40" y="426.60" font-size="5.2" text-anchor="end" fill="#222" >0.2%</text>
<text x="41.30" y="392.60" font-size="5.75" text-anchor="middle" fill="#666" transform="rotate(-90 41.30 392.60)">Alteration Frequency</text>
<text x="60.10" y="457.40" font-size="5.8" text-anchor="end" fill="#1e1e1e" >Structural variant data</text>
<text x="58.60" y="466.30" font-size="5.8" text-anchor="end" fill="#1e1e1e" >Mutation data</text>
<text x="57.70" y="474.90" font-size="5.8" text-anchor="end" fill="#1e1e1e" >CNA data</text>
<path d="M66.75 454.00h1.4v0.9h0.9v1.4h-0.9v0.9h-1.4v-0.9h-0.9v-1.4h0.9z" fill="#111"/>
<rect x="74.75" y="455.00" width="3.40" height="1.20" fill="#111" />
<path d="M66.75 462.90h1.4v0.9h0.9v1.4h-0.9v0.9h-1.4v-0.9h-0.9v-1.4h0.9z" fill="#111"/>
<path d="M75.75 462.90h1.4v0.9h0.9v1.4h-0.9v0.9h-1.4v-0.9h-0.9v-1.4h0.9z" fill="#111"/>
<path d="M66.75 471.50h1.4v0.9h0.9v1.4h-0.9v0.9h-1.4v-0.9h-0.9v-1.4h0.9z" fill="#111"/>
<path d="M75.75 471.50h1.4v0.9h0.9v1.4h-0.9v0.9h-1.4v-0.9h-0.9v-1.4h0.9z" fill="#111"/>
<text x="64.65" y="482.50" font-size="5.9" text-anchor="start" fill="#1a1a1a" stroke="#1a1a1a" stroke-width="0.06" transform="rotate(50.5 64.65 482.50)">Colorectal Adenocarcinoma</text>
<text x="73.65" y="482.50" font-size="5.9" text-anchor="start" fill="#1a1a1a" stroke="#1a1a1a" stroke-width="0.06" transform="rotate(50.5 73.65 482.50)">Colorectal Cancer</text>
<text x="138.90" y="351.40" font-size="11.7" text-anchor="start" fill="#222" >F</text>
<text x="195.10" y="337.40" font-size="11.85" text-anchor="middle" fill="#404040" >ANGPTL5</text>
<rect x="195.00" y="449.30" width="20.10" height="30" fill="none" stroke="#ececec" stroke-width="0.6"/>
<rect x="196.40" y="350.00" width="7.00" height="84.10" fill="#3d7a37" />
<rect x="196.40" y="434.10" width="7.00" height="4.10" fill="#ee3b36" />
<rect x="196.40" y="438.20" width="7.00" height="11.10" fill="#3b4a9c" />
<rect x="205.40" y="400.40" width="7.30" height="34.50" fill="#3d7a37" />
<rect x="205.40" y="434.90" width="7.30" height="8.90" fill="#ee3b36" />
<rect x="205.40" y="443.80" width="7.30" height="5.50" fill="#3b4a9c" />
<line x1="195.00" y1="342.60" x2="195.00" y2="449.90" stroke="#2a2a2a" stroke-width="1.25"/>
<line x1="194.40" y1="449.30" x2="214.60" y2="449.30" stroke="#2a2a2a" stroke-width="1.2"/>
<line x1="193.30" y1="364.20" x2="195.00" y2="364.20" stroke="#222" stroke-width="1.0"/>
<text x="193.30" y="366.00" font-size="5.2" text-anchor="end" fill="#222" >1.5%</text>
<line x1="193.30" y1="393.00" x2="195.00" y2="393.00" stroke="#222" stroke-width="1.0"/>
<text x="193.30" y="394.80" font-size="5.2" text-anchor="end" fill="#222" >1%</text>
<line x1="193.30" y1="421.10" x2="195.00" y2="421.10" stroke="#222" stroke-width="1.0"/>
<text x="193.30" y="422.90" font-size="5.2" text-anchor="end" fill="#222" >0.5%</text>
<text x="174.20" y="392.60" font-size="5.75" text-anchor="middle" fill="#666" transform="rotate(-90 174.20 392.60)">Alteration Frequency</text>
<text x="193.00" y="457.60" font-size="5.8" text-anchor="end" fill="#1e1e1e" >Structural variant data</text>
<text x="191.50" y="466.50" font-size="5.8" text-anchor="end" fill="#1e1e1e" >Mutation data</text>
<text x="190.60" y="475.10" font-size="5.8" text-anchor="end" fill="#1e1e1e" >CNA data</text>
<path d="M199.20 454.20h1.4v0.9h0.9v1.4h-0.9v0.9h-1.4v-0.9h-0.9v-1.4h0.9z" fill="#111"/>
<rect x="207.35" y="455.20" width="3.40" height="1.20" fill="#111" />
<path d="M199.20 463.10h1.4v0.9h0.9v1.4h-0.9v0.9h-1.4v-0.9h-0.9v-1.4h0.9z" fill="#111"/>
<path d="M208.35 463.10h1.4v0.9h0.9v1.4h-0.9v0.9h-1.4v-0.9h-0.9v-1.4h0.9z" fill="#111"/>
<path d="M199.20 471.70h1.4v0.9h0.9v1.4h-0.9v0.9h-1.4v-0.9h-0.9v-1.4h0.9z" fill="#111"/>
<path d="M208.35 471.70h1.4v0.9h0.9v1.4h-0.9v0.9h-1.4v-0.9h-0.9v-1.4h0.9z" fill="#111"/>
<text x="197.10" y="482.70" font-size="5.9" text-anchor="start" fill="#1a1a1a" stroke="#1a1a1a" stroke-width="0.06" transform="rotate(50.5 197.10 482.70)">Colorectal Adenocarcinoma</text>
<text x="206.25" y="482.70" font-size="5.9" text-anchor="start" fill="#1a1a1a" stroke="#1a1a1a" stroke-width="0.06" transform="rotate(50.5 206.25 482.70)">Colorectal Cancer</text>
<text x="275.50" y="351.40" font-size="11.7" text-anchor="start" fill="#222" >G</text>
<text x="330.00" y="337.40" font-size="11.85" text-anchor="middle" fill="#404040" >ANGPTL6</text>
<rect x="332.90" y="448.80" width="20.20" height="30" fill="none" stroke="#ececec" stroke-width="0.6"/>
<rect x="334.20" y="350.00" width="7.20" height="70.20" fill="#3d7a37" />
<rect x="334.20" y="420.20" width="7.20" height="11.50" fill="#ee3b36" />
<rect x="334.20" y="431.70" width="7.20" height="17.10" fill="#3b4a9c" />
<rect x="343.20" y="382.50" width="7.50" height="31.50" fill="#3d7a37" />
<rect x="343.20" y="414.00" width="7.50" height="4.20" fill="#ee3b36" />
<rect x="343.20" y="418.20" width="7.50" height="26.50" fill="#3b4a9c" />
<rect x="343.20" y="444.70" width="7.50" height="4.10" fill="#8a8a8a" />
<line x1="332.90" y1="343.00" x2="332.90" y2="449.40" stroke="#2a2a2a" stroke-width="1.25"/>
<line x1="332.30" y1="448.80" x2="352.60" y2="448.80" stroke="#2a2a2a" stroke-width="1.2"/>
<line x1="331.20" y1="345.30" x2="332.90" y2="345.30" stroke="#222" stroke-width="1.0"/>
<text x="331.20" y="347.10" font-size="5.2" text-anchor="end" fill="#222" >1.2%</text>
<line x1="331.20" y1="362.60" x2="332.90" y2="362.60" stroke="#222" stroke-width="1.0"/>
<text x="331.20" y="364.40" font-size="5.2" text-anchor="end" fill="#222" >1%</text>
<line x1="331.20" y1="380.00" x2="332.90" y2="380.00" stroke="#222" stroke-width="1.0"/>
<text x="331.20" y="381.80" font-size="5.2" text-anchor="end" fill="#222" >0.8%</text>
<line x1="331.20" y1="397.60" x2="332.90" y2="397.60" stroke="#222" stroke-width="1.0"/>
<text x="331.20" y="399.40" font-size="5.2" text-anchor="end" fill="#222" >0.6%</text>
<line x1="331.20" y1="414.40" x2="332.90" y2="414.40" stroke="#222" stroke-width="1.0"/>
<text x="331.20" y="416.20" font-size="5.2" text-anchor="end" fill="#222" >0.4%</text>
<line x1="331.20" y1="432.00" x2="332.90" y2="432.00" stroke="#222" stroke-width="1.0"/>
<text x="331.20" y="433.80" font-size="5.2" text-anchor="end" fill="#222" >0.2%</text>
<text x="312.10" y="392.60" font-size="5.75" text-anchor="middle" fill="#666" transform="rotate(-90 312.10 392.60)">Alteration Frequency</text>
<text x="330.90" y="457.10" font-size="5.8" text-anchor="end" fill="#1e1e1e" >Structural variant data</text>
<text x="329.40" y="466.00" font-size="5.8" text-anchor="end" fill="#1e1e1e" >Mutation data</text>
<text x="328.50" y="474.60" font-size="5.8" text-anchor="end" fill="#1e1e1e" >CNA data</text>
<path d="M337.10 453.70h1.4v0.9h0.9v1.4h-0.9v0.9h-1.4v-0.9h-0.9v-1.4h0.9z" fill="#111"/>
<rect x="345.25" y="454.70" width="3.40" height="1.20" fill="#111" />
<path d="M337.10 462.60h1.4v0.9h0.9v1.4h-0.9v0.9h-1.4v-0.9h-0.9v-1.4h0.9z" fill="#111"/>
<path d="M346.25 462.60h1.4v0.9h0.9v1.4h-0.9v0.9h-1.4v-0.9h-0.9v-1.4h0.9z" fill="#111"/>
<path d="M337.10 471.20h1.4v0.9h0.9v1.4h-0.9v0.9h-1.4v-0.9h-0.9v-1.4h0.9z" fill="#111"/>
<path d="M346.25 471.20h1.4v0.9h0.9v1.4h-0.9v0.9h-1.4v-0.9h-0.9v-1.4h0.9z" fill="#111"/>
<text x="335.00" y="482.20" font-size="5.9" text-anchor="start" fill="#1a1a1a" stroke="#1a1a1a" stroke-width="0.06" transform="rotate(50.5 335.00 482.20)">Colorectal Adenocarcinoma</text>
<text x="344.15" y="482.20" font-size="5.9" text-anchor="start" fill="#1a1a1a" stroke="#1a1a1a" stroke-width="0.06" transform="rotate(50.5 344.15 482.20)">Colorectal Cancer</text>
<text x="408.90" y="351.40" font-size="11.7" text-anchor="start" fill="#222" >H</text>
<text x="463.60" y="337.40" font-size="11.85" text-anchor="middle" fill="#404040" >ANGPTL7</text>
<rect x="463.90" y="448.50" width="20.60" height="30" fill="none" stroke="#ececec" stroke-width="0.6"/>
<rect x="465.80" y="350.00" width="6.90" height="83.20" fill="#3d7a37" />
<rect x="465.80" y="433.20" width="6.90" height="15.30" fill="#3b4a9c" />
<rect x="474.70" y="409.80" width="7.00" height="11.30" fill="#3d7a37" />
<rect x="474.70" y="421.10" width="7.00" height="27.40" fill="#3b4a9c" />
<line x1="463.90" y1="343.00" x2="463.90" y2="449.10" stroke="#2a2a2a" stroke-width="1.25"/>
<line x1="463.30" y1="448.50" x2="484.00" y2="448.50" stroke="#2a2a2a" stroke-width="1.2"/>
<line x1="462.20" y1="356.00" x2="463.90" y2="356.00" stroke="#222" stroke-width="1.0"/>
<text x="462.20" y="357.80" font-size="5.2" text-anchor="end" fill="#222" >1.2%</text>
<line x1="462.20" y1="371.40" x2="463.90" y2="371.40" stroke="#222" stroke-width="1.0"/>
<text x="462.20" y="373.20" font-size="5.2" text-anchor="end" fill="#222" >1%</text>
<line x1="462.20" y1="387.00" x2="463.90" y2="387.00" stroke="#222" stroke-width="1.0"/>
<text x="462.20" y="388.80" font-size="5.2" text-anchor="end" fill="#222" >0.8%</text>
<line x1="462.20" y1="402.10" x2="463.90" y2="402.10" stroke="#222" stroke-width="1.0"/>
<text x="462.20" y="403.90" font-size="5.2" text-anchor="end" fill="#222" >0.6%</text>
<line x1="462.20" y1="417.60" x2="463.90" y2="417.60" stroke="#222" stroke-width="1.0"/>
<text x="462.20" y="419.40" font-size="5.2" text-anchor="end" fill="#222" >0.4%</text>
<line x1="462.20" y1="433.50" x2="463.90" y2="433.50" stroke="#222" stroke-width="1.0"/>
<text x="462.20" y="435.30" font-size="5.2" text-anchor="end" fill="#222" >0.2%</text>
<text x="443.10" y="392.60" font-size="5.75" text-anchor="middle" fill="#666" transform="rotate(-90 443.10 392.60)">Alteration Frequency</text>
<text x="461.90" y="456.80" font-size="5.8" text-anchor="end" fill="#1e1e1e" >Structural variant data</text>
<text x="460.40" y="465.70" font-size="5.8" text-anchor="end" fill="#1e1e1e" >Mutation data</text>
<text x="459.50" y="474.30" font-size="5.8" text-anchor="end" fill="#1e1e1e" >CNA data</text>
<path d="M468.55 453.40h1.4v0.9h0.9v1.4h-0.9v0.9h-1.4v-0.9h-0.9v-1.4h0.9z" fill="#111"/>
<rect x="476.50" y="454.40" width="3.40" height="1.20" fill="#111" />
<path d="M468.55 462.30h1.4v0.9h0.9v1.4h-0.9v0.9h-1.4v-0.9h-0.9v-1.4h0.9z" fill="#111"/>
<path d="M477.50 462.30h1.4v0.9h0.9v1.4h-0.9v0.9h-1.4v-0.9h-0.9v-1.4h0.9z" fill="#111"/>
<path d="M468.55 470.90h1.4v0.9h0.9v1.4h-0.9v0.9h-1.4v-0.9h-0.9v-1.4h0.9z" fill="#111"/>
<path d="M477.50 470.90h1.4v0.9h0.9v1.4h-0.9v0.9h-1.4v-0.9h-0.9v-1.4h0.9z" fill="#111"/>
<text x="466.45" y="481.90" font-size="5.9" text-anchor="start" fill="#1a1a1a" stroke="#1a1a1a" stroke-width="0.06" transform="rotate(50.5 466.45 481.90)">Colorectal Adenocarcinoma</text>
<text x="475.40" y="481.90" font-size="5.9" text-anchor="start" fill="#1a1a1a" stroke="#1a1a1a" stroke-width="0.06" transform="rotate(50.5 475.40 481.90)">Colorectal Cancer</text>
<line x1="480.2" y1="160" x2="484.7" y2="160" stroke="#e6e6e6" stroke-width="0.8"/>
<ellipse cx="323.6" cy="159.6" rx="1.0" ry="0.8" fill="#222"/>
</svg>
</body></html>
